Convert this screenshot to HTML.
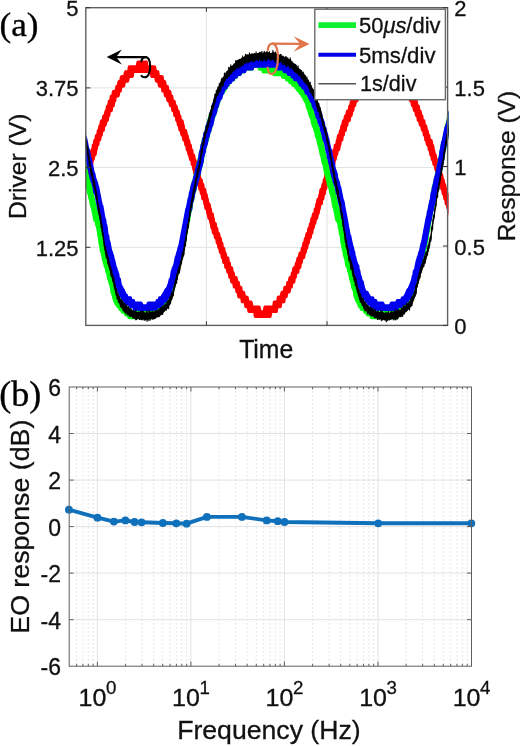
<!DOCTYPE html>
<html lang="en"><head><meta charset="utf-8"><title>Figure</title>
<style>html,body{margin:0;padding:0;background:#fff}svg{display:block}text{font-family:"Liberation Sans",Arial,Helvetica,sans-serif;fill:#111;stroke:#111;stroke-width:0.3px}.ser{font-family:"Liberation Serif","Times New Roman",serif;fill:#000;stroke:#000;stroke-width:0.35px}</style></head><body>
<svg width="520" height="746" viewBox="0 0 520 746">
<rect width="520" height="746" fill="#fff"/>
<defs><clipPath id="ca"><rect x="85.3" y="7.7" width="363.3" height="317.7"/></clipPath>
<clipPath id="cb"><rect x="60" y="380" width="420" height="290"/></clipPath></defs>
<g stroke="#e2e2e2" stroke-width="1" fill="none">
<line x1="85.8" y1="87.9" x2="447.6" y2="87.9"/>
<line x1="85.8" y1="167.5" x2="447.6" y2="167.5"/>
<line x1="85.8" y1="247.3" x2="447.6" y2="247.3"/>
<line x1="206.4" y1="7.7" x2="206.4" y2="325.4"/>
<line x1="327.0" y1="7.7" x2="327.0" y2="325.4"/>
</g>
<g clip-path="url(#ca)" fill="none" stroke-linejoin="miter" stroke-linecap="butt">
<polygon fill="#fe0000" stroke="none" points="77.8,188.9 78.3,188.2 78.8,187.9 79.3,184.9 79.8,183.6 80.3,183.2 80.8,180.0 81.3,178.7 81.8,178.3 82.3,175.1 82.8,173.8 83.3,173.4 83.8,170.2 84.3,168.9 84.8,168.5 85.3,164.4 85.8,163.7 86.3,163.4 86.8,160.4 87.3,159.1 87.8,158.7 88.3,158.5 88.8,154.6 89.3,153.9 89.8,153.6 90.3,149.7 90.8,149.0 91.3,148.7 91.8,144.8 92.3,144.1 92.8,143.8 93.3,139.9 93.8,139.2 94.3,138.9 94.8,135.9 95.3,134.6 95.8,134.2 96.3,134.0 96.8,130.1 97.3,129.4 97.8,129.1 98.3,126.1 98.8,124.8 99.3,124.4 99.8,121.2 100.3,119.9 100.8,119.5 101.3,119.3 101.8,119.2 102.3,115.4 102.8,114.7 103.3,114.4 103.8,114.3 104.3,111.4 104.8,110.1 105.3,109.7 105.8,106.5 106.3,105.2 106.8,104.8 107.3,104.6 107.8,100.7 108.3,100.0 108.8,99.7 109.3,99.6 109.8,95.8 110.3,95.1 110.8,94.8 111.3,94.7 111.8,91.8 112.3,90.5 112.8,90.1 113.3,89.9 113.8,89.8 114.3,89.8 114.8,89.8 115.3,86.0 115.8,85.3 116.3,85.0 116.8,84.9 117.3,82.0 117.8,80.7 118.3,80.3 118.8,80.1 119.3,80.0 119.8,77.1 120.3,75.8 120.8,75.4 121.3,75.2 121.8,75.1 122.3,75.1 122.8,75.1 123.3,75.1 123.8,72.2 124.3,70.9 124.8,70.5 125.3,70.3 125.8,70.2 126.3,70.2 126.8,70.2 127.3,70.2 127.8,66.4 128.3,65.7 128.8,65.4 129.3,65.3 129.8,65.3 130.3,65.3 130.8,65.3 131.3,65.3 131.8,65.3 132.3,65.3 132.8,65.3 133.3,65.3 133.8,65.3 134.3,65.3 134.8,65.3 135.3,65.3 135.8,65.3 136.3,62.4 136.8,61.1 137.3,60.7 137.8,60.5 138.3,60.4 138.8,60.4 139.3,60.4 139.8,60.4 140.3,60.4 140.8,60.4 141.3,60.4 141.8,60.4 142.3,60.4 142.8,60.4 143.3,60.4 143.8,60.4 144.3,60.4 144.8,60.4 145.3,60.4 145.8,60.4 146.3,60.4 146.8,60.5 147.3,60.8 147.8,61.5 148.3,65.3 148.8,65.3 149.3,65.3 149.8,65.3 150.3,65.3 150.8,65.3 151.3,65.3 151.8,65.3 152.3,65.3 152.8,65.3 153.3,65.3 153.8,65.3 154.3,65.3 154.8,65.4 155.3,65.6 155.8,66.0 156.3,67.3 156.8,70.2 157.3,70.2 157.8,70.2 158.3,70.3 158.8,70.6 159.3,71.3 159.8,75.1 160.3,75.1 160.8,75.1 161.3,75.1 161.8,75.1 162.3,75.2 162.8,75.4 163.3,75.8 163.8,77.1 164.3,80.0 164.8,80.1 165.3,80.3 165.8,80.7 166.3,82.0 166.8,84.9 167.3,84.9 167.8,85.0 168.3,85.3 168.8,86.0 169.3,89.8 169.8,89.8 170.3,89.9 170.8,90.2 171.3,90.9 171.8,94.7 172.3,94.8 172.8,95.1 173.3,95.8 173.8,99.6 174.3,99.7 174.8,99.9 175.3,100.3 175.8,101.6 176.3,104.6 176.8,104.8 177.3,105.2 177.8,106.5 178.3,109.5 178.8,109.7 179.3,110.1 179.8,111.4 180.3,114.4 180.8,114.7 181.3,115.4 181.8,119.2 182.3,119.3 182.8,119.5 183.3,119.9 183.8,121.2 184.3,124.5 184.8,125.2 185.3,129.0 185.8,129.1 186.3,129.3 186.8,129.7 187.3,131.0 187.8,134.2 188.3,134.6 188.8,135.9 189.3,139.1 189.8,139.5 190.3,140.8 190.8,143.8 191.3,144.1 191.8,144.8 192.3,148.7 192.8,149.0 193.3,149.7 193.8,153.6 194.3,153.8 194.8,154.2 195.3,155.5 195.8,158.7 196.3,159.1 196.8,160.4 197.3,163.7 197.8,164.4 198.3,168.2 198.8,168.3 199.3,168.6 199.8,169.3 200.3,173.5 200.8,174.2 201.3,178.1 201.8,178.3 202.3,178.7 202.8,180.0 203.3,183.0 203.8,183.3 204.3,184.0 204.8,187.9 205.3,188.1 205.8,188.5 206.3,189.8 206.8,193.0 207.3,193.4 207.8,194.7 208.3,198.0 208.8,198.7 209.3,202.6 209.8,202.8 210.3,203.2 210.8,204.5 211.3,207.8 211.8,208.5 212.3,212.3 212.8,212.4 213.3,212.7 213.8,213.4 214.3,217.6 214.8,218.3 215.3,222.1 215.8,222.2 216.3,222.5 216.8,223.2 217.3,227.1 217.8,227.4 218.3,228.1 218.8,232.0 219.3,232.2 219.8,232.6 220.3,233.9 220.8,236.9 221.3,237.2 221.8,237.9 222.3,241.8 222.8,242.1 223.3,242.8 223.8,246.7 224.3,246.9 224.8,247.3 225.3,248.6 225.8,251.8 226.3,252.2 226.8,253.5 227.3,256.4 227.8,256.4 228.3,256.5 228.8,256.8 229.3,257.5 229.8,261.4 230.3,261.7 230.8,262.4 231.3,266.2 231.8,266.3 232.3,266.5 232.8,266.9 233.3,268.2 233.8,271.4 234.3,271.8 234.8,273.1 235.3,276.0 235.8,276.0 236.3,276.1 236.8,276.3 237.3,276.7 237.8,278.0 238.3,280.9 238.8,281.0 239.3,281.3 239.8,282.0 240.3,285.8 240.8,285.8 241.3,285.9 241.8,286.2 242.3,286.9 242.8,290.7 243.3,290.7 243.8,290.8 244.3,291.0 244.8,291.4 245.3,292.7 245.8,295.6 246.3,295.6 246.8,295.6 247.3,295.7 247.8,295.9 248.3,296.3 248.8,297.6 249.3,300.5 249.8,300.5 250.3,300.5 250.8,300.5 251.3,300.6 251.8,300.8 252.3,301.2 252.8,302.5 253.3,305.4 253.8,305.4 254.3,305.4 254.8,305.4 255.3,305.4 255.8,305.4 256.3,305.4 256.8,305.4 257.3,305.4 257.8,305.4 258.3,305.4 258.8,305.4 259.3,305.5 259.8,305.7 260.3,306.1 260.8,307.4 261.3,310.3 261.8,310.3 262.3,310.3 262.8,310.3 263.3,307.4 263.8,306.1 264.3,305.7 264.8,305.5 265.3,305.4 265.8,305.4 266.3,305.4 266.8,305.4 267.3,305.4 267.8,305.4 268.3,305.4 268.8,305.4 269.3,305.4 269.8,305.4 270.3,305.4 270.8,305.4 271.3,305.4 271.8,305.4 272.3,305.4 272.8,301.6 273.3,300.9 273.8,300.6 274.3,300.5 274.8,300.5 275.3,300.5 275.8,300.5 276.3,300.5 276.8,296.7 277.3,296.0 277.8,295.7 278.3,295.6 278.8,295.6 279.3,295.6 279.8,295.6 280.3,292.7 280.8,291.4 281.3,291.0 281.8,290.8 282.3,290.7 282.8,290.7 283.3,286.9 283.8,286.2 284.3,285.9 284.8,285.8 285.3,285.8 285.8,285.8 286.3,282.0 286.8,281.3 287.3,281.0 287.8,280.9 288.3,278.0 288.8,276.7 289.3,276.3 289.8,276.1 290.3,276.0 290.8,273.1 291.3,271.8 291.8,271.4 292.3,268.2 292.8,266.9 293.3,266.5 293.8,266.3 294.3,266.2 294.8,263.3 295.3,262.0 295.8,261.6 296.3,258.4 296.8,257.1 297.3,256.7 297.8,256.5 298.3,253.5 298.8,252.2 299.3,251.8 299.8,251.6 300.3,251.5 300.8,247.7 301.3,247.0 301.8,246.7 302.3,242.8 302.8,242.1 303.3,241.8 303.8,238.8 304.3,237.5 304.8,237.1 305.3,233.9 305.8,232.6 306.3,232.2 306.8,232.0 307.3,228.1 307.8,227.4 308.3,227.1 308.8,224.1 309.3,222.8 309.8,222.4 310.3,218.3 310.8,217.6 311.3,217.3 311.8,214.3 312.3,213.0 312.8,212.6 313.3,212.4 313.8,208.5 314.3,207.8 314.8,207.5 315.3,203.6 315.8,202.9 316.3,199.6 316.8,198.3 317.3,197.9 317.8,197.7 318.3,194.7 318.8,193.4 319.3,189.8 319.8,188.5 320.3,188.1 320.8,187.9 321.3,184.9 321.8,183.6 322.3,183.2 322.8,179.1 323.3,178.4 323.8,178.1 324.3,174.2 324.8,173.5 325.3,173.2 325.8,170.2 326.3,168.9 326.8,168.5 327.3,168.3 327.8,164.4 328.3,163.7 328.8,160.4 329.3,159.1 329.8,158.7 330.3,158.5 330.8,155.5 331.3,154.2 331.8,153.8 332.3,149.7 332.8,149.0 333.3,148.7 333.8,144.8 334.3,144.1 334.8,143.8 335.3,143.7 335.8,139.9 336.3,139.2 336.8,135.9 337.3,134.6 337.8,134.2 338.3,134.0 338.8,131.0 339.3,129.7 339.8,129.3 340.3,126.1 340.8,124.8 341.3,124.4 341.8,121.2 342.3,119.9 342.8,119.5 343.3,119.3 343.8,116.3 344.3,115.0 344.8,114.6 345.3,114.4 345.8,111.4 346.3,110.1 346.8,109.7 347.3,109.5 347.8,109.4 348.3,105.6 348.8,104.9 349.3,104.6 349.8,101.6 350.3,100.3 350.8,99.9 351.3,99.7 351.8,95.8 352.3,95.1 352.8,94.8 353.3,94.7 353.8,94.7 354.3,90.9 354.8,90.2 355.3,89.9 355.8,89.8 356.3,89.8 356.8,86.9 357.3,85.6 357.8,85.2 358.3,85.0 358.8,84.9 359.3,81.1 359.8,80.4 360.3,80.1 360.8,80.0 361.3,80.0 361.8,80.0 362.3,76.2 362.8,75.5 363.3,75.2 363.8,75.1 364.3,75.1 364.8,75.1 365.3,75.1 365.8,71.3 366.3,70.6 366.8,70.3 367.3,70.2 367.8,70.2 368.3,70.2 368.8,70.2 369.3,70.2 369.8,70.2 370.3,67.3 370.8,66.0 371.3,65.6 371.8,65.4 372.3,65.3 372.8,65.3 373.3,65.3 373.8,65.3 374.3,65.3 374.8,65.3 375.3,65.3 375.8,65.3 376.3,65.3 376.8,65.3 377.3,65.3 377.8,65.3 378.3,61.5 378.8,60.8 379.3,60.5 379.8,60.4 380.3,60.4 380.8,60.4 381.3,60.4 381.8,60.4 382.3,60.4 382.8,60.5 383.3,60.4 383.8,60.4 384.3,60.4 384.8,60.4 385.3,60.4 385.8,60.4 386.3,60.4 386.8,60.4 387.3,60.4 387.8,60.4 388.3,60.4 388.8,60.4 389.3,60.5 389.8,60.8 390.3,61.5 390.8,65.3 391.3,65.3 391.8,65.3 392.3,65.3 392.8,65.3 393.3,65.3 393.8,65.3 394.3,65.3 394.8,65.3 395.3,65.3 395.8,65.3 396.3,65.4 396.8,65.6 397.3,66.0 397.8,67.3 398.3,70.2 398.8,70.2 399.3,70.2 399.8,70.2 400.3,70.2 400.8,70.3 401.3,70.5 401.8,70.9 402.3,72.2 402.8,75.1 403.3,75.1 403.8,75.2 404.3,75.5 404.8,76.2 405.3,80.0 405.8,80.0 406.3,80.0 406.8,80.0 407.3,80.1 407.8,80.4 408.3,81.1 408.8,84.9 409.3,84.9 409.8,85.0 410.3,85.2 410.8,85.6 411.3,86.9 411.8,89.8 412.3,89.9 412.8,90.2 413.3,90.9 413.8,94.7 414.3,94.8 414.8,95.1 415.3,95.8 415.8,99.6 416.3,99.6 416.8,99.7 417.3,100.0 417.8,100.7 418.3,104.5 418.8,104.6 419.3,104.9 419.8,105.6 420.3,109.5 420.8,109.7 421.3,110.1 421.8,111.4 422.3,114.4 422.8,114.7 423.3,115.4 423.8,119.2 424.3,119.3 424.8,119.6 425.3,120.3 425.8,124.2 426.3,124.4 426.8,124.8 427.3,126.1 427.8,129.3 428.3,129.7 428.8,131.0 429.3,134.0 429.8,134.3 430.3,135.0 430.8,138.8 431.3,138.9 431.8,139.1 432.3,139.5 432.8,140.8 433.3,144.0 433.8,144.4 434.3,145.7 434.8,149.3 435.3,150.6 435.8,153.6 436.3,153.9 436.8,154.6 437.3,158.5 437.8,158.7 438.3,159.1 438.8,160.4 439.3,163.7 439.8,164.4 440.3,168.2 440.8,168.3 441.3,168.6 441.8,169.3 442.3,173.4 442.8,173.8 443.3,175.1 443.8,178.3 444.3,178.7 444.8,180.0 445.3,183.2 445.8,183.6 446.3,184.9 446.8,188.1 447.3,188.5 447.8,189.8 448.3,193.0 448.8,193.4 449.3,194.7 449.8,197.7 450.3,198.0 450.8,198.7 451.3,202.6 451.8,202.8 452.3,203.2 452.8,204.5 453.3,207.8 453.8,208.5 454.3,212.4 454.8,212.6 455.3,213.0 455.3,229.8 454.8,229.8 454.3,229.8 453.8,229.7 453.3,229.4 452.8,228.7 452.3,224.9 451.8,224.8 451.3,224.5 450.8,223.8 450.3,219.7 449.8,219.3 449.3,218.0 448.8,214.7 448.3,214.0 447.8,210.1 447.3,209.9 446.8,209.5 446.3,208.2 445.8,205.2 445.3,204.9 444.8,204.2 444.3,200.3 443.8,200.0 443.3,199.3 442.8,195.4 442.3,195.1 441.8,194.4 441.3,190.5 440.8,190.2 440.3,189.5 439.8,185.6 439.3,185.3 438.8,184.6 438.3,180.5 437.8,180.1 437.3,178.8 436.8,175.8 436.3,175.6 435.8,175.2 435.3,173.9 434.8,170.6 434.3,169.9 433.8,166.0 433.3,165.8 432.8,165.4 432.3,164.1 431.8,161.1 431.3,160.8 430.8,160.1 430.3,156.2 429.8,155.9 429.3,155.2 428.8,151.3 428.3,151.0 427.8,150.3 427.3,146.4 426.8,146.2 426.3,145.8 425.8,144.5 425.3,141.5 424.8,141.2 424.3,140.5 423.8,136.6 423.3,136.3 422.8,135.6 422.3,131.7 421.8,131.5 421.3,131.1 420.8,129.8 420.3,126.8 419.8,126.6 419.3,126.2 418.8,124.9 418.3,122.0 417.8,121.9 417.3,121.6 416.8,120.9 416.3,117.0 415.8,116.8 415.3,116.4 414.8,115.1 414.3,112.1 413.8,111.9 413.3,111.5 412.8,110.2 412.3,107.2 411.8,107.0 411.3,106.6 410.8,105.3 410.3,102.3 409.8,102.1 409.3,101.7 408.8,100.4 408.3,97.5 407.8,97.5 407.3,97.4 406.8,97.1 406.3,96.4 405.8,92.6 405.3,92.6 404.8,92.6 404.3,92.5 403.8,92.3 403.3,91.9 402.8,90.6 402.3,87.7 401.8,87.6 401.3,87.4 400.8,87.0 400.3,85.7 399.8,82.8 399.3,82.8 398.8,82.8 398.3,82.8 397.8,82.7 397.3,82.5 396.8,82.1 396.3,80.8 395.8,77.9 395.3,77.9 394.8,77.9 394.3,77.9 393.8,77.9 393.3,77.9 392.8,77.9 392.3,77.8 391.8,77.5 391.3,76.8 390.8,73.0 390.3,73.0 389.8,73.0 389.3,73.0 388.8,73.0 388.3,73.0 387.8,73.0 387.3,73.0 386.8,73.0 386.3,73.0 385.8,73.0 385.3,73.0 384.8,73.0 384.3,73.0 383.8,73.0 383.3,73.0 382.8,73.0 382.3,73.0 381.8,73.0 381.3,73.0 380.8,73.0 380.3,73.0 379.8,73.0 379.3,73.0 378.8,73.0 378.3,73.0 377.8,73.0 377.3,73.0 376.8,73.0 376.3,73.0 375.8,76.8 375.3,77.5 374.8,77.8 374.3,77.9 373.8,77.9 373.3,77.9 372.8,77.9 372.3,77.9 371.8,77.9 371.3,77.9 370.8,77.9 370.3,80.8 369.8,82.1 369.3,82.5 368.8,82.7 368.3,82.8 367.8,82.8 367.3,86.6 366.8,87.3 366.3,87.6 365.8,87.7 365.3,87.7 364.8,87.7 364.3,87.7 363.8,90.6 363.3,91.9 362.8,92.3 362.3,92.5 361.8,92.6 361.3,96.4 360.8,97.1 360.3,97.4 359.8,97.5 359.3,97.5 358.8,100.4 358.3,101.7 357.8,102.1 357.3,102.3 356.8,102.4 356.3,105.3 355.8,106.6 355.3,107.0 354.8,107.2 354.3,111.1 353.8,111.8 353.3,112.1 352.8,115.1 352.3,116.4 351.8,116.8 351.3,117.0 350.8,120.9 350.3,121.6 349.8,121.9 349.3,122.0 348.8,122.0 348.3,125.8 347.8,126.5 347.3,126.8 346.8,130.7 346.3,131.4 345.8,131.7 345.3,131.8 344.8,135.6 344.3,136.3 343.8,136.6 343.3,140.5 342.8,141.2 342.3,141.5 341.8,141.6 341.3,145.4 340.8,146.1 340.3,149.4 339.8,150.7 339.3,151.1 338.8,151.3 338.3,154.3 337.8,155.6 337.3,156.0 336.8,159.2 336.3,160.5 335.8,160.9 335.3,165.0 334.8,165.7 334.3,166.0 333.8,166.1 333.3,169.9 332.8,170.6 332.3,173.9 331.8,175.2 331.3,175.6 330.8,175.8 330.3,179.7 329.8,180.4 329.3,183.7 328.8,185.0 328.3,185.4 327.8,185.6 327.3,188.6 326.8,189.9 326.3,190.3 325.8,194.4 325.3,195.1 324.8,195.4 324.3,199.3 323.8,200.0 323.3,200.3 322.8,204.2 322.3,204.9 321.8,205.2 321.3,205.3 320.8,209.1 320.3,209.8 319.8,213.1 319.3,214.4 318.8,214.8 318.3,218.0 317.8,219.3 317.3,219.7 316.8,219.9 316.3,223.8 315.8,224.5 315.3,224.8 314.8,227.8 314.3,229.1 313.8,229.5 313.3,233.6 312.8,234.3 312.3,234.6 311.8,237.6 311.3,238.9 310.8,239.3 310.3,239.5 309.8,243.4 309.3,244.1 308.8,244.4 308.3,248.3 307.8,249.0 307.3,249.3 306.8,252.3 306.3,253.6 305.8,254.0 305.3,257.2 304.8,258.5 304.3,258.9 303.8,259.1 303.3,259.2 302.8,263.0 302.3,263.7 301.8,264.0 301.3,267.9 300.8,268.6 300.3,268.9 299.8,269.0 299.3,272.8 298.8,273.5 298.3,273.8 297.8,273.9 297.3,273.9 296.8,277.7 296.3,278.4 295.8,278.7 295.3,282.6 294.8,283.3 294.3,283.6 293.8,283.7 293.3,283.7 292.8,287.5 292.3,288.2 291.8,288.5 291.3,288.6 290.8,291.5 290.3,292.8 289.8,293.2 289.3,293.4 288.8,293.5 288.3,293.5 287.8,296.4 287.3,297.7 286.8,298.1 286.3,298.3 285.8,298.4 285.3,302.2 284.8,302.9 284.3,303.2 283.8,303.3 283.3,303.3 282.8,303.3 282.3,303.3 281.8,307.1 281.3,307.8 280.8,308.1 280.3,308.2 279.8,308.2 279.3,308.2 278.8,308.2 278.3,308.2 277.8,312.0 277.3,312.7 276.8,313.0 276.3,313.1 275.8,313.1 275.3,313.1 274.8,313.1 274.3,313.1 273.8,313.1 273.3,313.1 272.8,313.1 272.3,313.1 271.8,316.0 271.3,317.3 270.8,317.7 270.3,317.9 269.8,318.0 269.3,318.0 268.8,318.0 268.3,318.0 267.8,318.0 267.3,318.0 266.8,318.0 266.3,318.0 265.8,318.0 265.3,318.0 264.8,318.0 264.3,318.0 263.8,318.0 263.3,318.0 262.8,318.0 262.3,318.0 261.8,318.0 261.3,318.0 260.8,318.0 260.3,318.0 259.8,318.0 259.3,318.0 258.8,318.0 258.3,318.0 257.8,318.0 257.3,318.0 256.8,318.0 256.3,318.0 255.8,318.0 255.3,318.0 254.8,317.9 254.3,317.6 253.8,316.9 253.3,313.1 252.8,313.1 252.3,313.1 251.8,313.1 251.3,313.1 250.8,313.1 250.3,313.1 249.8,313.1 249.3,313.1 248.8,313.0 248.3,312.8 247.8,312.4 247.3,311.1 246.8,308.2 246.3,308.2 245.8,308.2 245.3,308.1 244.8,307.8 244.3,307.1 243.8,303.3 243.3,303.3 242.8,303.3 242.3,303.3 241.8,303.2 241.3,302.9 240.8,302.2 240.3,298.4 239.8,298.4 239.3,298.4 238.8,298.4 238.3,298.3 237.8,298.0 237.3,297.3 236.8,293.4 236.3,293.2 235.8,292.8 235.3,291.5 234.8,288.6 234.3,288.6 233.8,288.5 233.3,288.2 232.8,287.5 232.3,283.7 231.8,283.7 231.3,283.6 230.8,283.3 230.3,282.6 229.8,278.8 229.3,278.7 228.8,278.4 228.3,277.7 227.8,273.8 227.3,273.6 226.8,273.2 226.3,271.9 225.8,269.0 225.3,268.9 224.8,268.6 224.3,267.9 223.8,264.1 223.3,264.0 222.8,263.7 222.3,263.0 221.8,259.1 221.3,258.8 220.8,258.1 220.3,254.2 219.8,254.0 219.3,253.6 218.8,252.3 218.3,249.1 217.8,248.7 217.3,247.4 216.8,244.4 216.3,244.1 215.8,243.4 215.3,239.5 214.8,239.3 214.3,238.9 213.8,237.6 213.3,234.6 212.8,234.4 212.3,234.0 211.8,232.7 211.3,229.5 210.8,229.1 210.3,227.8 209.8,224.2 209.3,222.9 208.8,219.9 208.3,219.7 207.8,219.3 207.3,218.0 206.8,214.7 206.3,214.0 205.8,210.1 205.3,209.9 204.8,209.5 204.3,208.2 203.8,204.9 203.3,204.2 202.8,200.4 202.3,200.3 201.8,200.0 201.3,199.3 200.8,195.2 200.3,194.8 199.8,193.5 199.3,190.5 198.8,190.2 198.3,189.5 197.8,185.6 197.3,185.4 196.8,185.0 196.3,183.7 195.8,180.1 195.3,178.8 194.8,175.8 194.3,175.6 193.8,175.2 193.3,173.9 192.8,170.6 192.3,169.9 191.8,166.0 191.3,165.7 190.8,165.0 190.3,161.1 189.8,160.9 189.3,160.5 188.8,159.2 188.3,156.0 187.8,155.6 187.3,154.3 186.8,151.3 186.3,151.0 185.8,150.3 185.3,146.4 184.8,146.1 184.3,145.4 183.8,141.6 183.3,141.5 182.8,141.2 182.3,140.5 181.8,136.6 181.3,136.4 180.8,136.0 180.3,134.7 179.8,131.7 179.3,131.5 178.8,131.1 178.3,129.8 177.8,126.6 177.3,126.2 176.8,124.9 176.3,121.9 175.8,121.6 175.3,120.9 174.8,117.1 174.3,117.0 173.8,116.7 173.3,116.0 172.8,112.2 172.3,112.1 171.8,111.8 171.3,111.1 170.8,107.3 170.3,107.2 169.8,107.0 169.3,106.6 168.8,105.3 168.3,102.4 167.8,102.3 167.3,102.1 166.8,101.7 166.3,100.4 165.8,97.5 165.3,97.4 164.8,97.2 164.3,96.8 163.8,95.5 163.3,92.6 162.8,92.6 162.3,92.5 161.8,92.2 161.3,91.5 160.8,87.7 160.3,87.7 159.8,87.7 159.3,87.6 158.8,87.4 158.3,87.0 157.8,85.7 157.3,82.8 156.8,82.8 156.3,82.7 155.8,82.5 155.3,82.1 154.8,80.8 154.3,77.9 153.8,77.9 153.3,77.9 152.8,77.9 152.3,77.9 151.8,77.9 151.3,77.8 150.8,77.5 150.3,76.8 149.8,73.0 149.3,73.0 148.8,73.0 148.3,73.0 147.8,73.0 147.3,73.0 146.8,73.0 146.3,73.0 145.8,73.0 145.3,73.0 144.8,73.0 144.3,73.0 143.8,73.0 143.3,73.0 142.8,73.0 142.3,73.0 141.8,73.0 141.3,73.0 140.8,73.0 140.3,73.0 139.8,73.0 139.3,73.0 138.8,73.0 138.3,73.0 137.8,73.0 137.3,73.0 136.8,73.0 136.3,73.0 135.8,73.0 135.3,73.0 134.8,73.0 134.3,73.0 133.8,76.8 133.3,77.5 132.8,77.8 132.3,77.9 131.8,77.9 131.3,77.9 130.8,77.9 130.3,77.9 129.8,77.9 129.3,80.8 128.8,82.1 128.3,82.5 127.8,82.7 127.3,82.8 126.8,82.8 126.3,82.8 125.8,82.8 125.3,85.7 124.8,87.0 124.3,87.4 123.8,87.6 123.3,87.7 122.8,87.7 122.3,87.7 121.8,91.5 121.3,92.2 120.8,92.5 120.3,92.6 119.8,95.5 119.3,96.8 118.8,97.2 118.3,97.4 117.8,97.5 117.3,97.5 116.8,97.5 116.3,101.3 115.8,102.0 115.3,102.3 114.8,106.2 114.3,106.9 113.8,107.2 113.3,107.3 112.8,111.1 112.3,111.8 111.8,112.1 111.3,112.2 110.8,112.2 110.3,116.0 109.8,116.7 109.3,117.0 108.8,120.9 108.3,121.6 107.8,121.9 107.3,122.0 106.8,124.9 106.3,126.2 105.8,126.6 105.3,126.8 104.8,130.7 104.3,131.4 103.8,131.7 103.3,131.8 102.8,135.6 102.3,136.3 101.8,136.6 101.3,139.6 100.8,140.9 100.3,141.3 99.8,141.5 99.3,145.4 98.8,146.1 98.3,146.4 97.8,149.4 97.3,150.7 96.8,154.3 96.3,155.6 95.8,156.0 95.3,156.2 94.8,159.2 94.3,160.5 93.8,160.9 93.3,164.1 92.8,165.4 92.3,165.8 91.8,166.0 91.3,169.9 90.8,170.6 90.3,170.9 89.8,173.9 89.3,175.2 88.8,175.6 88.3,179.7 87.8,180.4 87.3,180.7 86.8,184.6 86.3,185.3 85.8,185.6 85.3,189.5 84.8,190.2 84.3,190.5 83.8,194.4 83.3,195.1 82.8,195.4 82.3,198.4 81.8,199.7 81.3,203.3 80.8,204.6 80.3,205.0 79.8,205.2 79.3,205.3 78.8,205.3 78.3,205.3 77.8,205.3"/>
<polygon fill="#00fb10" stroke="none" points="77.8,139.8 78.3,139.8 78.8,139.8 79.3,139.8 79.8,139.9 80.3,140.1 80.8,140.4 81.3,141.4 81.8,144.1 82.3,145.6 82.8,146.2 83.3,149.5 83.8,151.6 84.3,154.3 84.8,157.0 85.3,159.7 85.8,161.8 86.3,162.4 86.8,165.1 87.3,167.4 87.8,168.4 88.3,172.8 88.8,173.8 89.3,175.3 89.8,175.9 90.3,179.2 90.8,181.3 91.3,183.6 91.8,184.6 92.3,186.3 92.8,187.3 93.3,190.0 93.8,194.4 94.3,195.4 94.8,198.1 95.3,200.2 95.8,202.5 96.3,203.5 96.8,206.2 97.3,208.3 97.8,210.2 98.3,210.4 98.8,211.0 99.3,213.7 99.8,216.4 100.3,219.1 100.8,221.4 101.3,222.4 101.8,225.1 102.3,227.8 102.8,232.2 103.3,233.2 103.8,235.9 104.3,240.7 104.8,244.0 105.3,246.1 105.8,248.4 106.3,249.4 106.8,252.1 107.3,254.2 107.8,256.3 108.3,256.9 108.8,260.2 109.3,261.7 109.8,262.3 110.3,265.6 110.8,267.1 111.3,267.7 111.8,271.0 112.3,273.1 112.8,275.4 113.3,276.4 113.8,278.1 114.3,279.1 114.8,281.2 115.3,284.5 115.8,286.2 116.3,287.2 116.8,289.3 117.3,292.0 117.8,293.9 118.3,294.1 118.8,294.7 119.3,296.5 119.8,296.7 120.3,297.0 120.8,298.0 121.3,299.4 121.8,299.7 122.3,300.7 122.8,301.8 123.3,302.0 123.8,302.2 124.3,302.8 124.8,304.5 125.3,304.5 125.8,304.6 126.3,304.8 126.8,305.1 127.3,306.1 127.8,307.2 128.3,307.2 128.8,307.2 129.3,307.2 129.8,307.3 130.3,307.5 130.8,307.8 131.3,308.8 131.8,309.9 132.3,309.9 132.8,309.9 133.3,309.9 133.8,309.9 134.3,309.9 134.8,309.9 135.3,309.9 135.8,309.9 136.3,309.9 136.8,309.9 137.3,309.9 137.8,309.9 138.3,309.9 138.8,309.9 139.3,309.9 139.8,309.9 140.3,309.9 140.8,310.1 141.3,310.3 141.8,310.3 142.3,310.1 142.8,309.9 143.3,309.9 143.8,309.9 144.3,309.9 144.8,309.9 145.3,309.9 145.8,309.9 146.3,309.9 146.8,309.9 147.3,309.9 147.8,309.9 148.3,309.9 148.8,309.9 149.3,309.9 149.8,309.9 150.3,309.9 150.8,309.9 151.3,309.9 151.8,309.9 152.3,308.8 152.8,307.8 153.3,307.5 153.8,307.3 154.3,307.2 154.8,307.2 155.3,307.2 155.8,307.2 156.3,307.2 156.8,307.2 157.3,306.1 157.8,305.1 158.3,304.8 158.8,304.6 159.3,304.5 159.8,303.4 160.3,302.4 160.8,302.1 161.3,301.9 161.8,301.8 162.3,300.7 162.8,299.7 163.3,299.4 163.8,299.2 164.3,297.4 164.8,296.8 165.3,296.6 165.8,294.7 166.3,294.1 166.8,292.6 167.3,291.6 167.8,289.3 168.3,287.2 168.8,286.2 169.3,284.5 169.8,281.2 170.3,279.1 170.8,276.4 171.3,275.4 171.8,273.1 172.3,271.0 172.8,270.0 173.3,267.7 173.8,265.6 174.3,264.6 174.8,262.3 175.3,260.2 175.8,257.5 176.3,256.5 176.8,254.2 177.3,253.6 177.8,252.1 178.3,249.4 178.8,246.1 179.3,243.4 179.8,241.3 180.3,238.6 180.8,237.6 181.3,233.2 181.8,229.9 182.3,229.3 182.8,224.5 183.3,222.4 183.8,219.1 184.3,216.4 184.8,213.7 185.3,211.6 185.8,208.9 186.3,207.9 186.8,205.6 187.3,202.9 187.8,198.1 188.3,197.1 188.8,195.4 189.3,192.7 189.8,189.4 190.3,187.3 190.8,186.3 191.3,184.6 191.8,181.3 192.3,180.7 192.8,178.6 193.3,175.9 193.8,173.8 194.3,172.8 194.8,170.5 195.3,169.9 195.8,165.7 196.3,163.0 196.8,162.0 197.3,160.3 197.8,157.0 198.3,156.4 198.8,154.3 199.3,151.6 199.8,149.5 200.3,146.2 200.8,144.1 201.3,143.1 201.8,138.7 202.3,137.7 202.8,137.4 203.3,135.4 203.8,132.7 204.3,130.6 204.8,129.6 205.3,127.3 205.8,125.2 206.3,124.2 206.8,121.9 207.3,119.2 207.8,118.6 208.3,116.5 208.8,114.4 209.3,113.4 209.8,113.1 210.3,111.1 210.8,108.4 211.3,105.7 211.8,105.1 212.3,104.9 212.8,103.6 213.3,100.9 213.8,99.9 214.3,99.6 214.8,97.6 215.3,95.5 215.8,92.8 216.3,91.8 216.8,91.5 217.3,90.1 217.8,89.1 218.3,88.8 218.8,88.6 219.3,86.8 219.8,86.2 220.3,84.7 220.8,83.7 221.3,83.4 221.8,81.4 222.3,80.8 222.8,80.6 223.3,79.3 223.8,78.3 224.3,78.0 224.8,77.8 225.3,77.7 225.8,76.6 226.3,75.6 226.8,75.3 227.3,75.1 227.8,73.9 228.3,72.9 228.8,72.6 229.3,72.4 229.8,72.3 230.3,72.3 230.8,71.2 231.3,70.2 231.8,69.9 232.3,69.7 232.8,69.6 233.3,69.6 233.8,69.6 234.3,69.6 234.8,68.5 235.3,67.5 235.8,67.2 236.3,67.0 236.8,66.9 237.3,66.9 237.8,66.9 238.3,65.2 238.8,64.6 239.3,64.4 239.8,64.2 240.3,64.2 240.8,64.2 241.3,64.2 241.8,64.2 242.3,64.2 242.8,64.2 243.3,63.1 243.8,62.1 244.3,61.8 244.8,61.6 245.3,61.5 245.8,61.5 246.3,61.5 246.8,61.5 247.3,61.5 247.8,61.5 248.3,61.5 248.8,61.5 249.3,61.5 249.8,61.5 250.3,61.5 250.8,61.5 251.3,59.8 251.8,59.2 252.3,59.0 252.8,58.8 253.3,58.8 253.8,58.8 254.3,58.8 254.8,58.8 255.3,58.8 255.8,58.8 256.3,58.8 256.8,58.8 257.3,58.8 257.8,58.8 258.3,58.8 258.8,59.0 259.3,59.2 259.8,59.8 260.3,61.5 260.8,61.5 261.3,61.5 261.8,61.5 262.3,61.5 262.8,61.5 263.3,61.5 263.8,61.5 264.3,61.6 264.8,61.8 265.3,62.1 265.8,63.1 266.3,64.2 266.8,64.2 267.3,64.2 267.8,64.2 268.3,64.2 268.8,64.2 269.3,64.2 269.8,64.2 270.3,64.2 270.8,64.2 271.3,64.2 271.8,64.2 272.3,64.3 272.8,64.5 273.3,64.8 273.8,65.8 274.3,66.9 274.8,66.9 275.3,66.9 275.8,66.9 276.3,66.9 276.8,66.9 277.3,66.9 277.8,66.9 278.3,66.9 278.8,66.9 279.3,66.9 279.8,66.9 280.3,67.0 280.8,67.2 281.3,67.5 281.8,68.5 282.3,69.6 282.8,69.6 283.3,69.6 283.8,69.6 284.3,69.6 284.8,69.6 285.3,69.6 285.8,69.6 286.3,69.6 286.8,69.8 287.3,70.0 287.8,70.6 288.3,72.3 288.8,72.3 289.3,72.3 289.8,72.3 290.3,72.3 290.8,72.3 291.3,72.5 291.8,72.7 292.3,73.3 292.8,75.0 293.3,75.0 293.8,75.0 294.3,75.1 294.8,75.3 295.3,75.6 295.8,76.6 296.3,77.7 296.8,77.7 297.3,77.8 297.8,78.0 298.3,78.3 298.8,79.3 299.3,80.4 299.8,80.6 300.3,80.8 300.8,81.4 301.3,83.1 301.8,83.3 302.3,83.5 302.8,84.1 303.3,86.4 303.8,87.4 304.3,88.5 304.8,88.6 305.3,88.8 305.8,89.1 306.3,90.1 306.8,91.6 307.3,92.2 307.8,94.2 308.3,94.5 308.8,95.5 309.3,96.9 309.8,97.2 310.3,98.2 310.8,99.9 311.3,100.9 311.8,102.6 312.3,103.6 312.8,105.7 313.3,107.8 313.8,108.4 314.3,111.1 314.8,113.1 315.3,113.4 315.8,114.4 316.3,116.1 316.8,117.1 317.3,119.2 317.8,121.9 318.3,124.2 318.8,125.2 319.3,126.9 319.8,127.9 320.3,132.0 320.8,132.3 321.3,133.3 321.8,136.0 322.3,137.5 322.8,138.1 323.3,141.4 323.8,143.1 324.3,144.1 324.8,148.9 325.3,151.2 325.8,152.2 326.3,154.9 326.8,157.0 327.3,159.1 327.8,159.7 328.3,163.0 328.8,164.7 329.3,165.7 329.8,170.1 330.3,171.1 330.8,173.8 331.3,175.5 331.8,176.5 332.3,180.6 332.8,180.9 333.3,181.9 333.8,184.6 334.3,186.7 334.8,188.8 335.3,189.4 335.8,192.1 336.3,194.8 336.8,197.1 337.3,198.1 337.8,200.8 338.3,203.5 338.8,206.2 339.3,208.3 339.8,210.1 340.3,210.3 340.8,210.6 341.3,211.6 341.8,214.3 342.3,218.7 342.8,219.7 343.3,224.1 343.8,225.1 344.3,229.5 344.8,230.5 345.3,233.2 345.8,238.0 346.3,240.7 346.8,243.4 347.3,245.7 347.8,246.7 348.3,251.1 348.8,252.1 349.3,253.8 349.8,254.8 350.3,259.0 350.8,259.6 351.3,261.9 351.8,262.9 352.3,265.6 352.8,267.3 353.3,268.3 353.8,270.0 354.3,271.0 354.8,273.7 355.3,276.4 355.8,278.5 356.3,280.6 356.8,281.2 357.3,283.9 357.8,286.2 358.3,287.2 358.8,288.9 359.3,289.9 359.8,292.0 360.3,294.7 360.8,296.4 361.3,296.5 361.8,296.7 362.3,297.0 362.8,298.0 363.3,299.3 363.8,299.5 364.3,300.1 364.8,302.1 365.3,302.4 365.8,303.4 366.3,304.5 366.8,304.5 367.3,304.6 367.8,304.8 368.3,305.1 368.8,306.1 369.3,307.2 369.8,307.2 370.3,307.2 370.8,307.3 371.3,307.5 371.8,307.8 372.3,308.8 372.8,309.9 373.3,309.9 373.8,309.9 374.3,309.9 374.8,309.9 375.3,309.9 375.8,309.9 376.3,309.9 376.8,309.9 377.3,309.9 377.8,309.9 378.3,309.9 378.8,309.9 379.3,309.9 379.8,309.9 380.3,309.9 380.8,310.1 381.3,309.9 381.8,309.9 382.3,309.9 382.8,309.9 383.3,309.9 383.8,310.0 384.3,310.0 384.8,309.9 385.3,309.9 385.8,309.9 386.3,309.9 386.8,309.9 387.3,309.9 387.8,309.9 388.3,309.9 388.8,309.9 389.3,309.9 389.8,309.9 390.3,309.9 390.8,309.9 391.3,309.9 391.8,309.9 392.3,309.9 392.8,309.9 393.3,309.9 393.8,309.9 394.3,309.9 394.8,308.8 395.3,307.8 395.8,307.5 396.3,307.3 396.8,307.2 397.3,307.2 397.8,307.2 398.3,307.2 398.8,307.2 399.3,305.5 399.8,304.9 400.3,304.7 400.8,304.5 401.3,304.5 401.8,302.8 402.3,302.2 402.8,302.0 403.3,301.8 403.8,301.8 404.3,300.7 404.8,299.7 405.3,299.4 405.8,297.4 406.3,296.8 406.8,296.6 407.3,296.4 407.8,294.7 408.3,294.1 408.8,292.0 409.3,289.9 409.8,288.9 410.3,286.6 410.8,286.0 411.3,284.5 411.8,281.8 412.3,280.8 412.8,279.1 413.3,275.8 413.8,273.1 414.3,271.0 414.8,270.0 415.3,267.7 415.8,267.1 416.3,265.0 416.8,262.9 417.3,261.9 417.8,259.6 418.3,257.5 418.8,254.8 419.3,252.1 419.8,249.4 420.3,248.4 420.8,248.1 421.3,244.0 421.8,243.0 422.3,238.6 422.8,237.6 423.3,233.2 423.8,230.5 424.3,227.2 424.8,224.5 425.3,222.4 425.8,219.7 426.3,216.4 426.8,214.3 427.3,211.0 427.8,208.9 428.3,205.6 428.8,203.5 429.3,202.5 429.8,200.2 430.3,197.5 430.8,194.8 431.3,190.0 431.8,187.3 432.3,184.6 432.8,183.6 433.3,181.9 433.8,179.2 434.3,178.2 434.8,173.8 435.3,172.8 435.8,171.1 436.3,167.8 436.8,165.1 437.3,163.0 437.8,160.3 438.3,157.6 438.8,154.9 439.3,153.9 439.8,149.5 440.3,146.2 440.8,144.1 441.3,143.1 441.8,140.8 442.3,138.1 442.8,136.0 443.3,132.7 443.8,132.1 444.3,127.9 444.8,125.2 445.3,124.2 445.8,122.5 446.3,121.5 446.8,117.1 447.3,116.1 447.8,113.8 448.3,113.2 448.8,111.1 449.3,109.0 449.8,108.0 450.3,105.7 450.8,103.6 451.3,100.3 451.8,99.7 452.3,98.2 452.8,97.2 453.3,96.9 453.8,96.7 454.3,96.6 454.8,96.6 455.3,96.6 455.3,112.4 454.8,113.4 454.3,115.7 453.8,117.8 453.3,118.8 452.8,120.5 452.3,123.8 451.8,125.9 451.3,126.9 450.8,129.2 450.3,131.9 449.8,132.5 449.3,136.7 448.8,137.7 448.3,139.4 447.8,142.7 447.3,144.8 446.8,147.5 446.3,148.5 445.8,150.8 445.3,152.9 444.8,158.3 444.3,159.3 443.8,161.6 443.3,164.3 442.8,167.0 442.3,169.7 441.8,171.8 441.3,174.5 440.8,177.8 440.3,178.4 439.8,182.6 439.3,183.6 438.8,185.9 438.3,188.6 437.8,189.2 437.3,194.0 436.8,194.6 436.3,198.8 435.8,201.5 435.3,204.2 434.8,206.9 434.3,207.9 433.8,210.2 433.3,212.3 432.8,215.6 432.3,217.7 431.8,221.0 431.3,223.1 430.8,226.4 430.3,231.2 429.8,232.2 429.3,233.9 428.8,237.2 428.3,242.0 427.8,243.0 427.3,247.4 426.8,248.4 426.3,252.8 425.8,253.8 425.3,254.1 424.8,258.8 424.3,259.4 423.8,261.5 423.3,264.2 422.8,266.3 422.3,267.3 421.8,269.6 421.3,271.7 420.8,272.7 420.3,274.4 419.8,277.7 419.3,278.3 418.8,279.8 418.3,282.5 417.8,285.8 417.3,286.4 416.8,288.5 416.3,291.2 415.8,291.8 415.3,293.3 414.8,294.3 414.3,296.6 413.8,298.7 413.3,299.7 412.8,301.4 412.3,302.4 411.8,302.7 411.3,302.9 410.8,304.1 410.3,305.1 409.8,305.4 409.3,307.4 408.8,308.0 408.3,308.2 407.8,308.4 407.3,309.5 406.8,310.5 406.3,310.8 405.8,311.0 405.3,312.2 404.8,313.2 404.3,313.5 403.8,313.7 403.3,313.8 402.8,313.8 402.3,313.8 401.8,315.5 401.3,316.1 400.8,316.3 400.3,316.5 399.8,316.5 399.3,316.5 398.8,316.5 398.3,318.2 397.8,318.8 397.3,319.0 396.8,319.2 396.3,319.2 395.8,319.2 395.3,319.2 394.8,319.2 394.3,319.2 393.8,319.2 393.3,319.2 392.8,319.2 392.3,319.2 391.8,319.2 391.3,319.2 390.8,319.2 390.3,319.2 389.8,319.2 389.3,319.2 388.8,319.2 388.3,319.2 387.8,319.2 387.3,319.2 386.8,319.2 386.3,319.2 385.8,319.2 385.3,319.2 384.8,319.2 384.3,319.2 383.8,319.2 383.3,319.2 382.8,319.2 382.3,319.2 381.8,319.2 381.3,319.2 380.8,319.2 380.3,319.2 379.8,319.2 379.3,319.2 378.8,319.2 378.3,319.2 377.8,319.2 377.3,319.2 376.8,319.2 376.3,319.2 375.8,319.2 375.3,319.2 374.8,319.2 374.3,319.2 373.8,319.2 373.3,319.2 372.8,319.2 372.3,319.2 371.8,319.2 371.3,319.2 370.8,319.0 370.3,318.8 369.8,318.2 369.3,316.5 368.8,316.5 368.3,316.5 367.8,316.5 367.3,316.5 366.8,316.3 366.3,316.1 365.8,315.5 365.3,313.8 364.8,313.8 364.3,313.6 363.8,313.4 363.3,312.8 362.8,311.1 362.3,311.1 361.8,311.1 361.3,311.0 360.8,310.8 360.3,310.5 359.8,309.5 359.3,308.3 358.8,308.1 358.3,307.8 357.8,306.8 357.3,305.1 356.8,304.1 356.3,302.7 355.8,302.4 355.3,301.4 354.8,299.7 354.3,298.7 353.8,297.0 353.3,296.0 352.8,291.6 352.3,290.6 351.8,289.1 351.3,288.5 350.8,285.2 350.3,283.1 349.8,281.0 349.3,280.4 348.8,277.7 348.3,275.0 347.8,272.9 347.3,272.3 346.8,269.6 346.3,267.6 345.8,267.3 345.3,266.3 344.8,263.6 344.3,259.4 343.8,258.8 343.3,256.5 342.8,255.5 342.3,251.1 341.8,250.1 341.3,247.4 340.8,244.7 340.3,242.6 339.8,237.2 339.3,234.9 338.8,233.9 338.3,229.5 337.8,228.5 337.3,224.1 336.8,223.1 336.3,221.7 335.8,221.4 335.3,220.4 334.8,218.3 334.3,215.0 333.8,212.9 333.3,210.2 332.8,208.1 332.3,207.5 331.8,204.8 331.3,201.5 330.8,198.8 330.3,196.1 329.8,194.4 329.3,193.4 328.8,191.3 328.3,188.6 327.8,186.6 327.3,186.3 326.8,185.3 326.3,181.1 325.8,180.5 325.3,177.8 324.8,175.5 324.3,174.5 323.8,172.4 323.3,169.7 322.8,166.4 322.3,164.7 321.8,163.7 321.3,161.6 320.8,158.9 320.3,156.6 319.8,155.6 319.3,152.9 318.8,150.8 318.3,148.1 317.8,145.8 317.3,144.8 316.8,142.7 316.3,140.0 315.8,138.0 315.3,137.7 314.8,136.7 314.3,132.5 313.8,131.9 313.3,129.6 312.8,128.6 312.3,127.1 311.8,126.5 311.3,124.2 310.8,123.2 310.3,119.1 309.8,118.8 309.3,117.8 308.8,116.1 308.3,115.1 307.8,112.4 307.3,110.9 306.8,110.3 306.3,108.2 305.8,107.6 305.3,104.9 304.8,103.0 304.3,102.8 303.8,102.2 303.3,100.2 302.8,99.9 302.3,98.9 301.8,97.6 301.3,97.4 300.8,96.8 300.3,95.1 299.8,94.9 299.3,94.7 298.8,94.1 298.3,92.4 297.8,92.3 297.3,92.1 296.8,91.8 296.3,90.8 295.8,89.6 295.3,89.4 294.8,89.1 294.3,88.1 293.8,87.0 293.3,87.0 292.8,86.9 292.3,86.7 291.8,86.4 291.3,85.4 290.8,84.3 290.3,84.3 289.8,84.2 289.3,84.0 288.8,83.7 288.3,82.7 287.8,81.6 287.3,81.6 286.8,81.6 286.3,81.4 285.8,81.2 285.3,80.6 284.8,78.9 284.3,78.9 283.8,78.9 283.3,78.9 282.8,78.9 282.3,78.7 281.8,78.5 281.3,77.9 280.8,76.2 280.3,76.2 279.8,76.2 279.3,76.2 278.8,76.2 278.3,76.2 277.8,76.2 277.3,76.2 276.8,76.2 276.3,76.2 275.8,76.2 275.3,76.2 274.8,76.2 274.3,76.2 273.8,76.2 273.3,76.0 272.8,75.8 272.3,75.2 271.8,73.5 271.3,73.5 270.8,73.5 270.3,73.5 269.8,73.5 269.3,73.5 268.8,73.5 268.3,73.5 267.8,73.5 267.3,73.5 266.8,73.5 266.3,73.5 265.8,73.5 265.3,73.5 264.8,73.5 264.3,73.5 263.8,73.5 263.3,73.5 262.8,73.3 262.3,73.1 261.8,72.5 261.3,70.8 260.8,70.8 260.3,70.8 259.8,70.8 259.3,70.7 258.8,70.5 258.3,70.2 257.8,69.2 257.3,68.1 256.8,68.1 256.3,68.1 255.8,68.1 255.3,68.1 254.8,68.1 254.3,68.1 253.8,69.2 253.3,70.2 252.8,70.5 252.3,70.7 251.8,70.8 251.3,70.8 250.8,70.8 250.3,70.8 249.8,70.7 249.3,70.6 248.8,70.8 248.3,70.8 247.8,70.8 247.3,70.8 246.8,70.8 246.3,70.8 245.8,71.9 245.3,72.9 244.8,73.2 244.3,73.4 243.8,73.5 243.3,73.5 242.8,73.5 242.3,73.5 241.8,74.6 241.3,75.6 240.8,75.9 240.3,76.1 239.8,76.2 239.3,76.2 238.8,76.2 238.3,76.2 237.8,77.3 237.3,78.3 236.8,78.6 236.3,78.8 235.8,78.9 235.3,80.0 234.8,81.0 234.3,81.3 233.8,81.5 233.3,81.6 232.8,81.6 232.3,81.6 231.8,82.7 231.3,83.7 230.8,84.0 230.3,84.2 229.8,86.0 229.3,86.6 228.8,86.8 228.3,87.0 227.8,88.7 227.3,89.3 226.8,89.5 226.3,90.8 225.8,91.8 225.3,92.1 224.8,92.3 224.3,93.5 223.8,94.5 223.3,94.8 222.8,96.8 222.3,97.4 221.8,99.5 221.3,100.1 220.8,100.3 220.3,102.2 219.8,104.3 219.3,105.3 218.8,107.6 218.3,108.2 217.8,110.3 217.3,110.9 216.8,112.4 216.3,115.1 215.8,116.1 215.3,117.8 214.8,118.8 214.3,121.1 213.8,121.7 213.3,123.2 212.8,126.5 212.3,128.6 211.8,129.6 211.3,131.9 210.8,132.5 210.3,134.0 209.8,135.0 209.3,139.4 208.8,140.4 208.3,142.1 207.8,143.1 207.3,145.4 206.8,148.1 206.3,148.7 205.8,150.8 205.3,152.9 204.8,156.2 204.3,158.3 203.8,161.0 203.3,163.7 202.8,164.7 202.3,167.0 201.8,169.7 201.3,170.3 200.8,174.5 200.3,175.5 199.8,177.2 199.3,178.2 198.8,180.5 198.3,182.6 197.8,185.3 197.3,186.3 196.8,188.0 196.3,191.3 195.8,191.9 195.3,194.0 194.8,196.1 194.3,199.4 193.8,202.1 193.3,202.7 192.8,206.9 192.3,209.6 191.8,212.3 191.3,213.3 190.8,215.6 190.3,220.4 189.8,221.4 189.3,225.8 188.8,226.8 188.3,229.1 187.8,233.9 187.3,234.9 186.8,236.6 186.3,242.0 185.8,243.0 185.3,245.3 184.8,248.0 184.3,250.1 183.8,252.8 183.3,256.1 182.8,258.8 182.3,259.4 181.8,260.9 181.3,261.9 180.8,264.2 180.3,266.9 179.8,269.0 179.3,270.0 178.8,272.3 178.3,274.4 177.8,277.7 177.3,278.3 176.8,279.8 176.3,283.1 175.8,283.7 175.3,287.9 174.8,288.9 174.3,291.2 173.8,291.8 173.3,293.9 172.8,296.0 172.3,297.0 171.8,299.3 171.3,301.4 170.8,302.4 170.3,302.7 169.8,302.9 169.3,304.1 168.8,305.1 168.3,306.8 167.8,307.8 167.3,308.1 166.8,308.3 166.3,308.4 165.8,310.1 165.3,310.7 164.8,310.9 164.3,311.1 163.8,311.1 163.3,312.8 162.8,313.4 162.3,313.6 161.8,313.8 161.3,313.8 160.8,313.8 160.3,313.8 159.8,315.5 159.3,316.1 158.8,316.3 158.3,316.5 157.8,316.5 157.3,316.5 156.8,316.5 156.3,316.5 155.8,317.6 155.3,318.6 154.8,318.9 154.3,319.1 153.8,319.2 153.3,319.2 152.8,319.2 152.3,319.2 151.8,319.2 151.3,319.2 150.8,319.2 150.3,319.2 149.8,319.2 149.3,319.2 148.8,319.2 148.3,319.2 147.8,319.2 147.3,319.2 146.8,319.2 146.3,319.2 145.8,319.2 145.3,319.2 144.8,319.2 144.3,319.2 143.8,319.2 143.3,319.2 142.8,319.2 142.3,319.2 141.8,319.2 141.3,319.2 140.8,319.2 140.3,319.2 139.8,319.2 139.3,319.2 138.8,319.2 138.3,319.2 137.8,319.2 137.3,319.2 136.8,319.2 136.3,319.2 135.8,319.2 135.3,319.2 134.8,319.2 134.3,319.2 133.8,319.2 133.3,319.2 132.8,319.2 132.3,319.2 131.8,319.2 131.3,319.2 130.8,319.2 130.3,319.2 129.8,319.2 129.3,319.2 128.8,319.1 128.3,318.9 127.8,318.6 127.3,317.6 126.8,316.5 126.3,316.5 125.8,316.5 125.3,316.3 124.8,316.1 124.3,315.5 123.8,313.8 123.3,313.8 122.8,313.8 122.3,313.7 121.8,313.5 121.3,313.2 120.8,312.2 120.3,311.1 119.8,311.0 119.3,310.8 118.8,310.5 118.3,309.5 117.8,308.3 117.3,308.1 116.8,307.8 116.3,306.8 115.8,305.6 115.3,305.4 114.8,305.1 114.3,304.1 113.8,302.4 113.3,301.4 112.8,299.7 112.3,298.7 111.8,296.0 111.3,294.5 110.8,293.9 110.3,291.2 109.8,287.9 109.3,285.8 108.8,283.7 108.3,283.1 107.8,280.8 107.3,279.8 106.8,277.7 106.3,274.4 105.8,272.9 105.3,272.3 104.8,269.0 104.3,267.5 103.8,266.9 103.3,264.6 102.8,263.6 102.3,260.9 101.8,258.8 101.3,256.1 100.8,253.8 100.3,252.8 99.8,250.7 99.3,247.4 98.8,244.7 98.3,242.6 97.8,237.6 97.3,236.6 96.8,231.8 96.3,229.1 95.8,226.8 95.3,225.8 94.8,223.1 94.3,221.8 93.8,221.6 93.3,221.0 92.8,217.7 92.3,215.0 91.8,212.9 91.3,210.2 90.8,207.9 90.3,206.9 89.8,204.8 89.3,202.1 88.8,199.8 88.3,198.8 87.8,194.7 87.3,194.4 86.8,193.4 86.3,189.0 85.8,188.0 85.3,185.9 84.8,182.6 84.3,181.1 83.8,180.5 83.3,178.2 82.8,177.2 82.3,172.8 81.8,171.8 81.3,169.1 80.8,167.4 80.3,166.4 79.8,163.7 79.3,161.0 78.8,158.3 78.3,156.2 77.8,154.1"/>
<polygon fill="#0000f0" stroke="none" points="77.8,115.2 78.3,115.3 78.8,115.3 79.3,115.3 79.8,115.5 80.3,115.9 80.8,116.8 81.3,118.9 81.8,121.1 82.3,121.6 82.8,124.0 83.3,124.9 83.8,126.5 84.3,127.0 84.8,129.4 85.3,130.3 85.8,134.8 86.3,135.7 86.8,137.5 87.3,138.4 87.8,141.1 88.3,143.2 88.8,146.5 89.3,148.3 89.8,149.2 90.3,151.9 90.8,154.0 91.3,156.7 91.8,159.1 92.3,160.0 92.8,164.3 93.3,164.8 93.8,168.1 94.3,170.2 94.8,172.4 95.3,172.9 95.8,175.6 96.3,178.0 96.8,178.9 97.3,180.7 97.8,181.6 98.3,183.7 98.8,186.1 99.3,187.0 99.8,189.7 100.3,192.4 100.8,195.1 101.3,197.2 101.8,200.5 102.3,202.6 102.8,204.8 103.3,205.3 103.8,208.0 104.3,210.7 104.8,214.0 105.3,216.7 105.8,218.5 106.3,219.4 106.8,223.9 107.3,224.8 107.8,227.5 108.3,232.3 108.8,234.7 109.3,235.6 109.8,240.1 110.3,241.0 110.8,243.1 111.3,245.8 111.8,248.5 112.3,250.7 112.8,251.2 113.3,253.6 113.8,254.5 114.3,256.6 114.8,259.0 115.3,259.9 115.8,262.6 116.3,264.7 116.8,266.9 117.3,267.4 117.8,269.8 118.3,270.7 118.8,272.5 119.3,273.4 119.8,277.4 120.3,277.7 120.8,278.2 121.3,281.5 121.8,284.2 122.3,285.6 122.8,286.0 123.3,286.9 123.8,288.3 124.3,288.7 124.8,289.6 125.3,291.2 125.8,291.7 126.3,293.5 126.8,293.6 127.3,293.9 127.8,294.4 128.3,296.2 128.8,296.2 129.3,296.1 129.8,296.2 130.3,296.2 130.8,296.3 131.3,296.6 131.8,297.1 132.3,298.9 132.8,298.9 133.3,298.9 133.8,299.0 134.3,299.3 134.8,299.8 135.3,301.6 135.8,301.6 136.3,301.6 136.8,301.6 137.3,301.6 137.8,301.6 138.3,301.6 138.8,301.6 139.3,301.6 139.8,301.6 140.3,301.6 140.8,301.6 141.3,301.6 141.8,301.8 142.3,302.2 142.8,303.1 143.3,304.2 143.8,304.2 144.3,304.2 144.8,304.2 145.3,304.2 145.8,304.2 146.3,304.2 146.8,302.5 147.3,302.0 147.8,301.7 148.3,301.6 148.8,301.6 149.3,301.6 149.8,301.6 150.3,301.6 150.8,301.6 151.3,301.6 151.8,301.6 152.3,301.6 152.8,301.6 153.3,301.6 153.8,301.6 154.3,301.6 154.8,301.6 155.3,301.6 155.8,299.8 156.3,299.3 156.8,299.0 157.3,298.9 157.8,298.9 158.3,297.1 158.8,296.6 159.3,296.3 159.8,296.2 160.3,296.2 160.8,296.1 161.3,294.4 161.8,293.9 162.3,293.6 162.8,292.3 163.3,291.4 163.8,291.0 164.3,289.6 164.8,288.7 165.3,288.3 165.8,288.1 166.3,286.9 166.8,286.0 167.3,284.2 167.8,283.3 168.3,280.9 168.8,278.8 169.3,277.9 169.8,277.5 170.3,273.4 170.8,270.7 171.3,269.8 171.8,267.4 172.3,266.9 172.8,265.3 173.3,264.4 173.8,262.0 174.3,259.3 174.8,256.6 175.3,256.1 175.8,253.9 176.3,251.8 176.8,250.9 177.3,248.5 177.8,246.4 178.3,245.5 178.8,243.1 179.3,240.4 179.8,237.7 180.3,235.0 180.8,232.3 181.3,230.2 181.8,226.9 182.3,224.8 182.8,222.1 183.3,219.4 183.8,216.7 184.3,214.0 184.8,211.3 185.3,208.6 185.8,207.7 186.3,205.3 186.8,202.6 187.3,200.5 187.8,197.8 188.3,196.9 188.8,192.4 189.3,191.5 189.8,189.7 190.3,187.0 190.8,184.3 191.3,183.4 191.8,181.6 192.3,180.7 192.8,178.9 193.3,176.2 193.8,175.3 194.3,173.5 194.8,170.2 195.3,167.5 195.8,167.0 196.3,164.8 196.8,162.1 197.3,161.6 197.8,159.4 198.3,156.7 198.8,151.9 199.3,151.0 199.8,149.2 200.3,145.9 200.8,143.8 201.3,142.9 201.8,140.5 202.3,137.8 202.8,137.3 203.3,133.0 203.8,132.1 204.3,131.7 204.8,130.3 205.3,127.0 205.8,124.9 206.3,124.0 206.8,122.2 207.3,121.3 207.8,118.9 208.3,118.4 208.8,116.8 209.3,114.1 209.8,111.4 210.3,110.5 210.8,110.1 211.3,106.0 211.8,105.1 212.3,103.3 212.8,102.4 213.3,100.0 213.8,99.5 214.3,97.9 214.8,97.0 215.3,95.2 215.8,94.3 216.3,92.5 216.8,91.6 217.3,91.2 217.8,89.8 218.3,88.9 218.8,88.5 219.3,87.1 219.8,86.2 220.3,83.8 220.8,83.3 221.3,83.0 221.8,81.7 222.3,80.8 222.8,80.4 223.3,80.2 223.8,79.0 224.3,78.1 224.8,77.7 225.3,77.5 225.8,77.5 226.3,76.3 226.8,75.4 227.3,75.0 227.8,74.8 228.3,74.8 228.8,74.8 229.3,74.8 229.8,73.6 230.3,72.7 230.8,72.3 231.3,70.9 231.8,70.0 232.3,69.6 232.8,69.4 233.3,69.4 233.8,68.2 234.3,67.3 234.8,66.9 235.3,66.7 235.8,66.7 236.3,66.7 236.8,66.7 237.3,66.7 237.8,66.7 238.3,66.6 238.8,65.5 239.3,64.6 239.8,64.2 240.3,64.0 240.8,64.0 241.3,64.0 241.8,64.0 242.3,64.0 242.8,64.0 243.3,62.2 243.8,61.7 244.3,61.4 244.8,61.3 245.3,61.3 245.8,61.2 246.3,61.2 246.8,61.3 247.3,61.3 247.8,61.2 248.3,61.2 248.8,61.2 249.3,61.3 249.8,61.2 250.3,61.2 250.8,60.1 251.3,59.2 251.8,58.8 252.3,58.6 252.8,58.6 253.3,58.6 253.8,58.6 254.3,58.6 254.8,58.6 255.3,58.6 255.8,58.6 256.3,58.6 256.8,58.6 257.3,58.6 257.8,58.6 258.3,58.6 258.8,58.6 259.3,58.6 259.8,58.6 260.3,58.6 260.8,58.6 261.3,58.6 261.8,58.6 262.3,58.6 262.8,58.6 263.3,58.6 263.8,58.6 264.3,58.6 264.8,58.6 265.3,58.6 265.8,58.6 266.3,58.6 266.8,58.6 267.3,58.6 267.8,58.6 268.3,58.6 268.8,58.6 269.3,58.6 269.8,58.6 270.3,58.6 270.8,58.6 271.3,58.6 271.8,58.6 272.3,58.6 272.8,58.6 273.3,58.6 273.8,58.6 274.3,58.6 274.8,58.6 275.3,58.6 275.8,58.6 276.3,58.6 276.8,58.6 277.3,58.7 277.8,59.0 278.3,59.5 278.8,61.3 279.3,61.3 279.8,61.2 280.3,61.2 280.8,61.2 281.3,61.3 281.8,61.3 282.3,61.3 282.8,61.3 283.3,61.3 283.8,61.5 284.3,61.9 284.8,62.8 285.3,64.0 285.8,64.0 286.3,64.0 286.8,64.0 287.3,64.0 287.8,64.0 288.3,64.0 288.8,64.0 289.3,64.2 289.8,64.6 290.3,65.5 290.8,66.7 291.3,66.7 291.8,66.7 292.3,66.7 292.8,66.9 293.3,67.3 293.8,68.2 294.3,69.4 294.8,69.4 295.3,69.5 295.8,69.8 296.3,70.3 296.8,72.0 297.3,72.1 297.8,72.1 298.3,72.1 298.8,72.1 299.3,72.3 299.8,72.7 300.3,73.6 300.8,74.8 301.3,74.9 301.8,75.2 302.3,75.7 302.8,77.5 303.3,77.5 303.8,77.7 304.3,78.1 304.8,79.0 305.3,80.2 305.8,80.3 306.3,80.6 306.8,81.1 307.3,82.9 307.8,82.9 308.3,83.1 308.8,83.5 309.3,84.4 309.8,85.7 310.3,86.0 310.8,86.5 311.3,88.5 311.8,88.9 312.3,89.8 312.8,91.4 313.3,91.9 313.8,93.7 314.3,93.8 314.8,94.1 315.3,94.6 315.8,96.8 316.3,97.3 316.8,99.5 317.3,100.0 317.8,102.0 318.3,102.4 318.8,103.3 319.3,105.4 319.8,107.6 320.3,108.1 320.8,110.5 321.3,111.4 321.8,113.2 322.3,114.1 322.8,116.8 323.3,118.4 323.8,118.9 324.3,121.1 324.8,121.6 325.3,124.9 325.8,126.7 326.3,127.6 326.8,129.7 327.3,132.1 327.8,133.0 328.3,135.1 328.8,137.5 329.3,138.4 329.8,141.1 330.3,143.8 330.8,145.9 331.3,148.3 331.8,149.2 332.3,151.3 332.8,154.0 333.3,156.7 333.8,159.1 334.3,160.0 334.8,162.7 335.3,165.4 335.8,168.1 336.3,169.7 336.8,170.2 337.3,172.6 337.8,173.5 338.3,178.0 338.8,178.9 339.3,180.7 339.8,181.6 340.3,184.3 340.8,186.1 341.3,187.0 341.8,189.7 342.3,192.4 342.8,194.5 343.3,197.2 343.8,199.6 344.3,200.5 344.8,202.6 345.3,205.9 345.8,208.6 346.3,211.3 346.8,213.4 347.3,216.1 347.8,218.8 348.3,221.5 348.8,224.8 349.3,227.5 349.8,229.6 350.3,232.9 350.8,234.7 351.3,235.6 351.8,238.3 352.3,241.0 352.8,243.1 353.3,245.5 353.8,246.4 354.3,249.1 354.8,250.9 355.3,251.8 355.8,256.1 356.3,256.6 356.8,259.3 357.3,261.5 357.8,262.0 358.3,264.0 358.8,264.4 359.3,265.3 359.8,269.6 360.3,270.1 360.8,273.4 361.3,275.2 361.8,276.1 362.3,278.8 362.8,280.2 363.3,280.6 363.8,281.5 364.3,284.2 364.8,286.3 365.3,288.5 365.8,289.0 366.3,290.8 366.8,290.8 367.3,290.8 367.8,291.0 368.3,291.4 368.8,292.3 369.3,293.7 369.8,294.1 370.3,295.0 370.8,296.2 371.3,296.2 371.8,296.2 372.3,296.2 372.8,296.2 373.3,296.4 373.8,296.8 374.3,297.7 374.8,298.9 375.3,298.9 375.8,298.9 376.3,299.1 376.8,299.5 377.3,300.4 377.8,301.6 378.3,301.6 378.8,301.6 379.3,301.6 379.8,301.6 380.3,301.6 380.8,301.6 381.3,301.6 381.8,301.6 382.3,301.6 382.8,301.6 383.3,301.7 383.8,302.0 384.3,302.5 384.8,304.2 385.3,304.2 385.8,304.2 386.3,304.2 386.8,304.2 387.3,304.2 387.8,304.2 388.3,304.2 388.8,304.2 389.3,304.2 389.8,302.5 390.3,302.0 390.8,301.7 391.3,301.6 391.8,301.6 392.3,301.6 392.8,301.6 393.3,301.6 393.8,301.6 394.3,301.6 394.8,301.6 395.3,301.6 395.8,300.4 396.3,299.5 396.8,299.1 397.3,298.9 397.8,298.9 398.3,298.9 398.8,298.9 399.3,298.9 399.8,298.9 400.3,298.9 400.8,297.7 401.3,296.8 401.8,296.4 402.3,296.2 402.8,296.2 403.3,296.2 403.8,295.0 404.3,294.1 404.8,293.7 405.3,291.7 405.8,291.2 406.3,289.6 406.8,288.7 407.3,288.3 407.8,288.1 408.3,286.3 408.8,285.8 409.3,284.2 409.8,283.3 410.3,281.5 410.8,280.6 411.3,278.2 411.8,275.5 412.3,275.0 412.8,270.7 413.3,269.8 413.8,269.4 414.3,268.0 414.8,264.7 415.3,262.6 415.8,259.9 416.3,259.0 416.8,256.6 417.3,256.1 417.8,253.9 418.3,251.8 418.8,250.9 419.3,249.1 419.8,246.4 420.3,243.7 420.8,242.8 421.3,240.4 421.8,238.3 422.3,235.0 422.8,232.9 423.3,229.6 423.8,227.5 424.3,224.8 424.8,222.1 425.3,219.4 425.8,216.7 426.3,215.8 426.8,211.3 427.3,210.4 427.8,208.0 428.3,205.3 428.8,203.2 429.3,199.9 429.8,199.4 430.3,194.5 430.8,191.8 431.3,191.3 431.8,187.0 432.3,186.1 432.8,183.7 433.3,181.0 433.8,178.3 434.3,176.2 434.8,175.3 435.3,173.5 435.8,170.8 436.3,168.1 436.8,165.4 437.3,162.7 437.8,161.8 438.3,157.3 438.8,156.4 439.3,151.3 439.8,149.2 440.3,146.5 440.8,143.2 441.3,141.1 441.8,140.2 442.3,137.8 442.8,135.1 443.3,132.4 443.8,130.3 444.3,127.6 444.8,126.7 445.3,124.9 445.8,124.0 446.3,121.6 446.8,119.5 447.3,116.8 447.8,114.1 448.3,111.4 448.8,110.5 449.3,108.7 449.8,107.8 450.3,105.4 450.8,102.7 451.3,100.6 451.8,99.7 452.3,97.9 452.8,97.0 453.3,96.6 453.8,96.4 454.3,96.4 454.8,96.4 455.3,96.3 455.3,112.2 454.8,113.1 454.3,115.5 453.8,116.0 453.3,118.2 452.8,120.9 452.3,123.6 451.8,126.3 451.3,128.4 450.8,129.3 450.3,131.7 449.8,132.2 449.3,134.4 448.8,137.1 448.3,139.2 447.8,141.9 447.3,144.6 446.8,145.5 446.3,147.9 445.8,150.0 445.3,153.3 444.8,156.0 444.3,160.8 443.8,161.7 443.3,166.2 442.8,167.1 442.3,169.5 441.8,172.2 441.3,174.9 440.8,177.6 440.3,180.3 439.8,180.8 439.3,183.0 438.8,187.8 438.3,188.7 437.8,190.5 437.3,191.4 436.8,195.9 436.3,196.8 435.8,201.3 435.3,204.0 434.8,204.9 434.3,206.7 433.8,210.0 433.3,212.1 432.8,214.8 432.3,215.7 431.8,220.2 431.3,221.1 430.8,223.5 430.3,226.2 429.8,228.9 429.3,231.6 428.8,234.3 428.3,236.4 427.8,239.7 427.3,241.8 426.8,245.1 426.3,247.2 425.8,248.1 425.3,250.5 424.8,253.2 424.3,255.9 423.8,256.4 423.3,258.6 422.8,260.7 422.3,261.6 421.8,263.4 421.3,266.7 420.8,267.2 420.3,269.4 419.8,271.5 419.3,274.8 418.8,275.3 418.3,275.6 417.8,279.6 417.3,280.5 416.8,282.3 416.3,285.0 415.8,285.9 415.3,288.3 414.8,288.8 414.3,291.0 413.8,293.1 413.3,294.0 412.8,294.4 412.3,295.8 411.8,296.7 411.3,298.5 410.8,299.4 410.3,299.8 409.8,300.0 409.3,300.0 408.8,301.8 408.3,302.3 407.8,302.6 407.3,302.7 406.8,302.7 406.3,304.5 405.8,305.0 405.3,305.3 404.8,305.4 404.3,305.4 403.8,305.5 403.3,305.5 402.8,306.6 402.3,307.5 401.8,307.9 401.3,308.1 400.8,308.1 400.3,308.1 399.8,308.2 399.3,308.1 398.8,308.2 398.3,309.9 397.8,310.4 397.3,310.7 396.8,310.8 396.3,310.8 395.8,310.9 395.3,310.8 394.8,310.9 394.3,310.8 393.8,310.9 393.3,310.9 392.8,310.8 392.3,310.8 391.8,310.9 391.3,310.9 390.8,310.9 390.3,310.9 389.8,310.9 389.3,310.9 388.8,310.9 388.3,310.9 387.8,310.9 387.3,310.9 386.8,310.9 386.3,310.9 385.8,310.9 385.3,310.9 384.8,310.9 384.3,310.9 383.8,310.9 383.3,310.9 382.8,310.9 382.3,310.9 381.8,310.8 381.3,310.9 380.8,310.9 380.3,310.8 379.8,310.8 379.3,310.8 378.8,310.8 378.3,310.8 377.8,310.9 377.3,310.8 376.8,310.8 376.3,310.8 375.8,310.8 375.3,310.8 374.8,310.8 374.3,310.6 373.8,310.2 373.3,309.3 372.8,308.1 372.3,308.2 371.8,308.1 371.3,308.1 370.8,308.0 370.3,307.7 369.8,307.2 369.3,305.4 368.8,305.4 368.3,305.4 367.8,305.2 367.3,304.8 366.8,303.9 366.3,302.7 365.8,302.6 365.3,302.3 364.8,301.8 364.3,300.0 363.8,299.8 363.3,299.4 362.8,298.5 362.3,297.3 361.8,297.1 361.3,296.7 360.8,295.8 360.3,294.0 359.8,293.1 359.3,291.0 358.8,289.0 358.3,288.6 357.8,287.7 357.3,285.6 356.8,283.4 356.3,282.9 355.8,280.2 355.3,276.9 354.8,275.1 354.3,274.2 353.8,272.4 353.3,271.5 352.8,268.8 352.3,267.0 351.8,266.1 351.3,263.4 350.8,261.6 350.3,260.7 349.8,258.6 349.3,255.9 348.8,253.2 348.3,250.8 347.8,249.9 347.3,247.8 346.8,245.1 346.3,242.4 345.8,240.2 345.3,239.7 344.8,236.4 344.3,234.3 343.8,231.6 343.3,228.3 342.8,225.6 342.3,222.9 341.8,220.2 341.3,218.1 340.8,215.4 340.3,212.7 339.8,209.4 339.3,207.3 338.8,204.9 338.3,204.0 337.8,201.3 337.3,199.2 336.8,196.5 336.3,194.3 335.8,193.8 335.3,191.1 334.8,188.4 334.3,186.2 333.8,185.7 333.3,183.5 332.8,183.0 332.3,180.3 331.8,177.9 331.3,177.0 330.8,174.9 330.3,172.2 329.8,169.5 329.3,166.8 328.8,164.4 328.3,163.5 327.8,160.8 327.3,159.0 326.8,158.1 326.3,153.6 325.8,152.7 325.3,150.6 324.8,147.9 324.3,145.2 323.8,142.8 323.3,141.9 322.8,140.3 322.3,139.8 321.8,136.5 321.3,134.4 320.8,132.2 320.3,131.7 319.8,128.4 319.3,126.6 318.8,125.7 318.3,124.1 317.8,123.6 317.3,120.9 316.8,119.0 316.3,118.7 315.8,118.2 315.3,115.8 314.8,114.9 314.3,112.2 313.8,110.6 313.3,110.1 312.8,108.1 312.3,107.7 311.8,106.8 311.3,104.1 310.8,102.8 310.3,102.5 309.8,102.0 309.3,100.0 308.8,99.6 308.3,98.7 307.8,97.1 307.3,96.6 306.8,94.8 306.3,94.8 305.8,94.7 305.3,94.4 304.8,93.9 304.3,91.7 303.8,91.2 303.3,89.4 302.8,89.4 302.3,89.3 301.8,89.0 301.3,88.5 300.8,86.7 300.3,86.7 299.8,86.6 299.3,86.3 298.8,85.8 298.3,83.8 297.8,83.4 297.3,82.5 296.8,81.3 296.3,81.3 295.8,81.3 295.3,81.3 294.8,81.3 294.3,81.2 293.8,80.9 293.3,80.4 292.8,78.6 292.3,78.6 291.8,78.5 291.3,78.2 290.8,77.7 290.3,75.9 289.8,75.9 289.3,75.9 288.8,75.9 288.3,75.9 287.8,75.7 287.3,75.3 286.8,74.4 286.3,73.2 285.8,73.2 285.3,73.2 284.8,73.2 284.3,73.2 283.8,73.1 283.3,72.8 282.8,72.3 282.3,70.5 281.8,70.5 281.3,70.5 280.8,70.5 280.3,70.5 279.8,70.5 279.3,70.5 278.8,70.5 278.3,70.5 277.8,70.5 277.3,70.4 276.8,70.1 276.3,69.6 275.8,67.8 275.3,67.8 274.8,67.8 274.3,67.8 273.8,67.8 273.3,67.8 272.8,67.8 272.3,67.8 271.8,67.8 271.3,67.8 270.8,67.8 270.3,67.8 269.8,67.8 269.3,67.8 268.8,67.8 268.3,67.8 267.8,67.8 267.3,67.8 266.8,67.8 266.3,67.8 265.8,67.8 265.3,67.8 264.8,67.8 264.3,67.8 263.8,67.8 263.3,67.8 262.8,67.8 262.3,67.8 261.8,67.8 261.3,67.8 260.8,67.8 260.3,67.8 259.8,67.8 259.3,67.8 258.8,67.8 258.3,67.8 257.8,67.8 257.3,67.8 256.8,67.8 256.3,67.8 255.8,67.8 255.3,67.8 254.8,67.8 254.3,67.8 253.8,69.6 253.3,70.1 252.8,70.4 252.3,70.5 251.8,70.5 251.3,70.5 250.8,70.5 250.3,70.5 249.8,70.5 249.3,70.5 248.8,70.5 248.3,70.5 247.8,70.5 247.3,70.5 246.8,70.5 246.3,72.3 245.8,72.8 245.3,73.1 244.8,73.2 244.3,73.2 243.8,73.2 243.3,73.2 242.8,73.2 242.3,73.2 241.8,74.4 241.3,75.3 240.8,75.7 240.3,75.9 239.8,75.9 239.3,75.9 238.8,75.9 238.3,75.9 237.8,77.7 237.3,78.2 236.8,78.5 236.3,78.6 235.8,78.6 235.3,78.6 234.8,80.4 234.3,80.9 233.8,81.2 233.3,81.3 232.8,81.3 232.3,82.5 231.8,83.4 231.3,83.8 230.8,84.0 230.3,84.0 229.8,84.0 229.3,85.8 228.8,86.3 228.3,86.6 227.8,87.9 227.3,88.8 226.8,89.2 226.3,89.4 225.8,89.4 225.3,90.6 224.8,91.5 224.3,93.9 223.8,94.4 223.3,94.7 222.8,96.6 222.3,98.7 221.8,99.6 221.3,100.0 220.8,100.2 220.3,102.0 219.8,102.5 219.3,104.7 218.8,106.8 218.3,107.7 217.8,108.1 217.3,112.2 216.8,113.1 216.3,114.9 215.8,115.8 215.3,116.2 214.8,118.2 214.3,120.9 213.8,123.6 213.3,125.7 212.8,126.6 212.3,127.0 211.8,129.0 211.3,131.7 210.8,132.2 210.3,133.8 209.8,137.1 209.3,137.6 208.8,137.9 208.3,141.9 207.8,144.6 207.3,145.5 206.8,147.3 206.3,148.2 205.8,152.7 205.3,153.6 204.8,156.0 204.3,156.5 203.8,161.4 203.3,163.5 202.8,166.2 202.3,167.1 201.8,168.9 201.3,171.6 200.8,174.3 200.3,175.2 199.8,177.0 199.3,180.3 198.8,180.8 198.3,183.0 197.8,185.7 197.3,186.2 196.8,188.4 196.3,191.1 195.8,191.6 195.3,193.8 194.8,196.5 194.3,199.2 193.8,201.3 193.3,202.2 192.8,204.6 192.3,209.4 191.8,210.3 191.3,212.1 190.8,213.0 190.3,215.4 189.8,218.1 189.3,220.8 188.8,223.5 188.3,226.2 187.8,228.9 187.3,231.6 186.8,233.7 186.3,237.0 185.8,239.1 185.3,241.8 184.8,244.5 184.3,247.2 183.8,249.9 183.3,250.8 182.8,253.2 182.3,255.3 181.8,256.2 181.3,258.6 180.8,260.7 180.3,263.4 179.8,264.3 179.3,266.1 178.8,268.8 178.3,269.7 177.8,272.1 177.3,272.6 176.8,274.2 176.3,277.5 175.8,278.0 175.3,282.3 174.8,283.2 174.3,283.6 173.8,285.6 173.3,287.7 172.8,288.6 172.3,291.0 171.8,291.5 171.3,293.7 170.8,295.8 170.3,296.7 169.8,297.1 169.3,297.3 168.8,299.1 168.3,299.6 167.8,299.9 167.3,301.2 166.8,302.1 166.3,302.5 165.8,302.7 165.3,302.7 164.8,302.7 164.3,303.9 163.8,304.8 163.3,305.2 162.8,305.4 162.3,305.4 161.8,306.6 161.3,307.5 160.8,307.9 160.3,308.1 159.8,308.1 159.3,308.1 158.8,308.2 158.3,308.1 157.8,309.3 157.3,310.2 156.8,310.6 156.3,310.8 155.8,310.8 155.3,310.8 154.8,310.8 154.3,310.8 153.8,310.8 153.3,310.8 152.8,310.8 152.3,310.9 151.8,310.9 151.3,310.9 150.8,310.8 150.3,310.9 149.8,310.9 149.3,310.8 148.8,310.9 148.3,310.9 147.8,310.9 147.3,310.9 146.8,310.9 146.3,310.9 145.8,310.9 145.3,310.9 144.8,310.9 144.3,310.9 143.8,310.9 143.3,310.9 142.8,310.9 142.3,310.9 141.8,310.9 141.3,310.9 140.8,310.9 140.3,310.9 139.8,310.9 139.3,310.9 138.8,310.9 138.3,310.8 137.8,310.8 137.3,310.8 136.8,310.8 136.3,310.9 135.8,310.8 135.3,310.9 134.8,310.8 134.3,310.8 133.8,310.7 133.3,310.4 132.8,309.9 132.3,308.1 131.8,308.1 131.3,308.2 130.8,308.1 130.3,308.1 129.8,308.0 129.3,307.7 128.8,307.2 128.3,305.5 127.8,305.5 127.3,305.4 126.8,305.4 126.3,305.4 125.8,305.4 125.3,305.2 124.8,304.8 124.3,303.9 123.8,302.5 123.3,302.1 122.8,301.2 122.3,300.0 121.8,299.8 121.3,299.4 120.8,298.5 120.3,297.2 119.8,296.9 119.3,296.4 118.8,294.2 118.3,293.7 117.8,291.8 117.3,291.5 116.8,291.0 116.3,288.3 115.8,286.3 115.3,285.9 114.8,285.0 114.3,282.3 113.8,278.0 113.3,277.5 112.8,275.1 112.3,274.2 111.8,272.4 111.3,271.5 110.8,269.4 110.3,266.7 109.8,264.3 109.3,263.4 108.8,261.8 108.3,261.3 107.8,258.0 107.3,256.2 106.8,255.3 106.3,252.6 105.8,250.8 105.3,249.9 104.8,245.4 104.3,244.5 103.8,240.0 103.3,239.1 102.8,236.4 102.3,231.6 101.8,229.2 101.3,228.3 100.8,224.0 100.3,223.5 99.8,220.8 99.3,217.5 98.8,214.8 98.3,213.0 97.8,212.1 97.3,209.4 96.8,207.3 96.3,204.0 95.8,201.9 95.3,199.2 94.8,196.5 94.3,194.5 93.8,194.1 93.3,193.2 92.8,190.5 92.3,186.2 91.8,185.7 91.3,183.3 90.8,182.4 90.3,180.6 89.8,179.7 89.3,177.0 88.8,174.9 88.3,171.6 87.8,169.8 87.3,168.9 86.8,164.4 86.3,163.5 85.8,160.8 85.3,158.7 84.8,156.0 84.3,153.8 83.8,153.3 83.3,150.9 82.8,150.0 82.3,145.2 81.8,143.0 81.3,142.5 80.8,140.1 80.3,139.2 79.8,137.1 79.3,133.8 78.8,132.2 78.3,131.7 77.8,129.3"/>
<polygon fill="#000" stroke="none" points="83.8,129.4 84.3,131.5 84.8,133.6 85.3,135.8 85.8,138.1 86.3,140.5 86.8,143.1 87.3,145.7 87.8,148.5 88.3,151.3 88.8,154.2 89.3,157.0 89.8,159.8 90.3,162.5 90.8,165.1 91.3,167.7 91.8,170.1 92.3,172.5 92.8,174.8 93.3,177.2 93.8,179.5 94.3,181.9 94.8,184.4 95.3,186.9 95.8,189.4 96.3,192.0 96.8,194.7 97.3,197.4 97.8,200.2 98.3,203.1 98.8,206.0 99.3,208.9 99.8,212.0 100.3,215.1 100.8,218.2 101.3,221.4 101.8,224.6 102.3,227.8 102.8,231.0 103.3,234.2 103.8,237.3 104.3,240.3 104.8,243.2 105.3,245.9 105.8,248.4 106.3,250.8 106.8,252.9 107.3,254.9 107.8,256.8 108.3,258.7 108.8,260.5 109.3,262.3 109.8,264.2 110.3,266.0 110.8,267.9 111.3,269.8 111.8,271.8 112.3,273.7 112.8,275.6 113.3,277.6 113.8,279.5 114.3,281.5 114.8,283.4 115.3,285.3 115.8,287.1 116.3,288.9 116.8,290.5 117.3,292.1 117.8,293.5 118.3,294.8 118.8,296.0 119.3,297.0 119.8,298.0 120.3,298.9 120.8,299.7 121.3,300.4 121.8,301.1 122.3,301.8 122.8,302.4 123.3,303.0 123.8,303.6 124.3,304.1 124.8,304.7 125.3,305.1 125.8,305.6 126.3,306.1 126.8,306.5 127.3,306.9 127.8,307.3 128.3,307.7 128.8,308.1 129.3,308.5 129.8,308.8 130.3,309.2 130.8,309.5 131.3,309.8 131.8,310.1 132.3,310.4 132.8,310.7 133.3,310.9 133.8,311.1 134.3,311.3 134.8,311.5 135.3,311.6 135.8,311.8 136.3,311.9 136.8,312.1 137.3,312.2 137.8,312.3 138.3,312.4 138.8,312.5 139.3,312.6 139.8,312.7 140.3,312.7 140.8,312.8 141.3,312.8 141.8,312.8 142.3,312.8 142.8,312.8 143.3,312.8 143.8,312.7 144.3,312.7 144.8,312.6 145.3,312.7 145.8,312.8 146.3,312.8 146.8,312.8 147.3,312.8 147.8,312.8 148.3,312.8 148.8,312.8 149.3,312.7 149.8,312.6 150.3,312.6 150.8,312.5 151.3,312.4 151.8,312.3 152.3,312.1 152.8,312.0 153.3,311.9 153.8,311.7 154.3,311.6 154.8,311.4 155.3,311.2 155.8,311.0 156.3,310.8 156.8,310.6 157.3,310.3 157.8,310.0 158.3,309.7 158.8,309.4 159.3,309.1 159.8,308.7 160.3,308.3 160.8,308.0 161.3,307.6 161.8,307.2 162.3,306.8 162.8,306.3 163.3,305.9 163.8,305.4 164.3,304.9 164.8,304.4 165.3,303.9 165.8,303.4 166.3,302.8 166.8,302.2 167.3,301.5 167.8,300.9 168.3,300.1 168.8,299.4 169.3,298.5 169.8,297.6 170.3,296.6 170.8,295.5 171.3,294.3 171.8,293.0 172.3,291.5 172.8,289.9 173.3,288.2 173.8,286.4 174.3,284.5 174.8,282.6 175.3,280.7 175.8,278.8 176.3,276.8 176.8,274.9 177.3,272.9 177.8,271.0 178.3,269.1 178.8,267.2 179.3,265.3 179.8,263.4 180.3,261.6 180.8,259.8 181.3,257.9 181.8,256.0 182.3,254.1 182.8,252.1 183.3,249.8 183.8,247.5 184.3,244.9 184.8,242.1 185.3,239.1 185.8,236.1 186.3,232.9 186.8,229.7 187.3,226.5 187.8,223.3 188.3,220.1 188.8,216.9 189.3,213.8 189.8,210.8 190.3,207.7 190.8,204.8 191.3,201.9 191.8,199.1 192.3,196.3 192.8,193.6 193.3,191.0 193.8,188.4 194.3,185.9 194.8,183.4 195.3,181.0 195.8,178.6 196.3,176.2 196.8,173.9 197.3,171.5 197.8,169.1 198.3,166.7 198.8,164.1 199.3,161.5 199.8,158.7 200.3,155.9 200.8,153.0 201.3,150.2 201.8,147.4 202.3,144.7 202.8,142.0 203.3,139.5 203.8,137.2 204.3,134.9 204.8,132.7 205.3,130.7 205.8,128.6 206.3,126.7 206.8,124.8 207.3,122.9 207.8,121.1 208.3,119.2 208.8,117.4 209.3,115.5 209.8,113.7 210.3,111.9 210.8,110.1 211.3,108.3 211.8,106.5 212.3,104.7 212.8,103.0 213.3,101.3 213.8,99.6 214.3,98.0 214.8,96.4 215.3,94.9 215.8,93.4 216.3,92.0 216.8,90.6 217.3,89.2 217.8,88.0 218.3,86.7 218.8,85.5 219.3,84.4 219.8,83.3 220.3,82.2 220.8,81.2 221.3,80.3 221.8,79.3 222.3,78.4 222.8,77.6 223.3,76.7 223.8,75.9 224.3,75.1 224.8,74.4 225.3,73.6 225.8,72.9 226.3,72.2 226.8,71.5 227.3,70.9 227.8,70.3 228.3,69.7 228.8,69.1 229.3,68.5 229.8,68.0 230.3,67.4 230.8,66.9 231.3,66.4 231.8,65.9 232.3,65.4 232.8,64.9 233.3,64.4 233.8,64.0 234.3,63.5 234.8,63.1 235.3,62.6 235.8,62.2 236.3,61.8 236.8,61.4 237.3,61.1 237.8,60.7 238.3,60.3 238.8,60.0 239.3,59.7 239.8,59.3 240.3,59.0 240.8,58.7 241.3,58.4 241.8,58.1 242.3,57.8 242.8,57.6 243.3,57.3 243.8,57.0 244.3,56.7 244.8,56.5 245.3,56.2 245.8,56.0 246.3,55.8 246.8,55.6 247.3,55.4 247.8,55.2 248.3,55.0 248.8,54.8 249.3,54.7 249.8,54.5 250.3,54.4 250.8,54.3 251.3,54.2 251.8,54.1 252.3,54.0 252.8,53.9 253.3,53.8 253.8,53.7 254.3,53.7 254.8,53.6 255.3,53.5 255.8,53.4 256.3,53.4 256.8,53.3 257.3,53.2 257.8,53.2 258.3,53.1 258.8,53.1 259.3,53.0 259.8,53.0 260.3,52.9 260.8,52.9 261.3,52.8 261.8,52.8 262.3,52.8 262.8,52.8 263.3,52.7 263.8,52.7 264.3,52.7 264.8,52.7 265.3,52.7 265.8,52.7 266.3,52.7 266.8,52.7 267.3,52.7 267.8,52.7 268.3,52.8 268.8,52.8 269.3,52.8 269.8,52.8 270.3,52.9 270.8,52.9 271.3,53.0 271.8,53.1 272.3,53.2 272.8,53.2 273.3,53.3 273.8,53.4 274.3,53.5 274.8,53.6 275.3,53.7 275.8,53.8 276.3,53.9 276.8,54.1 277.3,54.2 277.8,54.3 278.3,54.4 278.8,54.6 279.3,54.7 279.8,54.9 280.3,55.1 280.8,55.2 281.3,55.4 281.8,55.6 282.3,55.9 282.8,56.1 283.3,56.3 283.8,56.6 284.3,56.9 284.8,57.1 285.3,57.4 285.8,57.7 286.3,58.0 286.8,58.3 287.3,58.5 287.8,58.8 288.3,59.2 288.8,59.5 289.3,59.8 289.8,60.1 290.3,60.5 290.8,60.8 291.3,61.2 291.8,61.6 292.3,62.0 292.8,62.4 293.3,62.8 293.8,63.2 294.3,63.7 294.8,64.1 295.3,64.6 295.8,65.1 296.3,65.6 296.8,66.1 297.3,66.6 297.8,67.1 298.3,67.6 298.8,68.1 299.3,68.6 299.8,69.1 300.3,69.7 300.8,70.2 301.3,70.8 301.8,71.4 302.3,71.9 302.8,72.6 303.3,73.2 303.8,73.8 304.3,74.5 304.8,75.1 305.3,75.8 305.8,76.5 306.3,77.2 306.8,77.9 307.3,78.7 307.8,79.5 308.3,80.3 308.8,81.1 309.3,81.9 309.8,82.8 310.3,83.7 310.8,84.6 311.3,85.6 311.8,86.6 312.3,87.7 312.8,88.7 313.3,89.9 313.8,91.0 314.3,92.2 314.8,93.5 315.3,94.8 315.8,96.1 316.3,97.4 316.8,98.8 317.3,100.3 317.8,101.8 318.3,103.3 318.8,104.8 319.3,106.4 319.8,108.0 320.3,109.7 320.8,111.3 321.3,113.0 321.8,114.8 322.3,116.5 322.8,118.3 323.3,120.0 323.8,121.8 324.3,123.7 324.8,125.5 325.3,127.5 325.8,129.4 326.3,131.5 326.8,133.6 327.3,135.8 327.8,138.1 328.3,140.5 328.8,143.1 329.3,145.7 329.8,148.5 330.3,151.3 330.8,154.2 331.3,157.0 331.8,159.8 332.3,162.5 332.8,165.1 333.3,167.7 333.8,170.1 334.3,172.5 334.8,174.8 335.3,177.2 335.8,179.5 336.3,181.9 336.8,184.4 337.3,186.9 337.8,189.4 338.3,192.0 338.8,194.7 339.3,197.4 339.8,200.2 340.3,203.1 340.8,206.0 341.3,208.9 341.8,212.0 342.3,215.1 342.8,218.2 343.3,221.4 343.8,224.6 344.3,227.8 344.8,231.0 345.3,234.2 345.8,237.3 346.3,240.3 346.8,243.2 347.3,245.9 347.8,248.4 348.3,250.8 348.8,252.9 349.3,254.9 349.8,256.8 350.3,258.7 350.8,260.5 351.3,262.3 351.8,264.2 352.3,266.0 352.8,267.9 353.3,269.8 353.8,271.8 354.3,273.7 354.8,275.6 355.3,277.6 355.8,279.5 356.3,281.5 356.8,283.4 357.3,285.3 357.8,287.1 358.3,288.9 358.8,290.5 359.3,292.1 359.8,293.5 360.3,294.8 360.8,296.0 361.3,297.0 361.8,298.0 362.3,298.9 362.8,299.7 363.3,300.4 363.8,301.1 364.3,301.8 364.8,302.4 365.3,303.0 365.8,303.6 366.3,304.1 366.8,304.7 367.3,305.1 367.8,305.6 368.3,306.1 368.8,306.5 369.3,306.9 369.8,307.3 370.3,307.7 370.8,308.1 371.3,308.5 371.8,308.8 372.3,309.2 372.8,309.5 373.3,309.8 373.8,310.1 374.3,310.4 374.8,310.7 375.3,310.9 375.8,311.1 376.3,311.3 376.8,311.5 377.3,311.6 377.8,311.8 378.3,311.9 378.8,312.1 379.3,312.2 379.8,312.3 380.3,312.4 380.8,312.5 381.3,312.6 381.8,312.7 382.3,312.7 382.8,312.8 383.3,312.8 383.8,312.8 384.3,312.8 384.8,312.8 385.3,312.8 385.8,312.7 386.3,312.7 386.8,312.6 387.3,312.7 387.8,312.8 388.3,312.8 388.8,312.8 389.3,312.8 389.8,312.8 390.3,312.8 390.8,312.8 391.3,312.7 391.8,312.6 392.3,312.6 392.8,312.5 393.3,312.4 393.8,312.3 394.3,312.1 394.8,312.0 395.3,311.9 395.8,311.7 396.3,311.6 396.8,311.4 397.3,311.2 397.8,311.0 398.3,310.8 398.8,310.6 399.3,310.3 399.8,310.0 400.3,309.7 400.8,309.4 401.3,309.1 401.8,308.7 402.3,308.3 402.8,308.0 403.3,307.6 403.8,307.2 404.3,306.8 404.8,306.3 405.3,305.9 405.8,305.4 406.3,304.9 406.8,304.4 407.3,303.9 407.8,303.4 408.3,302.8 408.8,302.2 409.3,301.5 409.8,300.9 410.3,300.1 410.8,299.4 411.3,298.5 411.8,297.6 412.3,296.6 412.8,295.5 413.3,294.3 413.8,293.0 414.3,291.5 414.8,289.9 415.3,288.2 415.8,286.4 416.3,284.5 416.8,282.6 417.3,280.7 417.8,278.8 418.3,276.8 418.8,274.9 419.3,272.9 419.8,271.0 420.3,269.1 420.8,267.3 421.3,265.6 421.8,264.1 422.3,262.6 422.8,261.3 423.3,260.0 423.8,258.7 424.3,257.5 424.8,256.2 425.3,255.0 425.8,253.6 426.3,252.2 426.8,250.7 427.3,249.0 427.8,247.3 428.3,245.3 428.8,243.2 429.3,240.9 429.8,238.4 430.3,235.7 430.8,232.9 431.3,229.9 431.8,226.7 432.3,223.4 432.8,220.0 433.3,216.8 433.8,213.5 434.3,210.4 434.8,207.3 435.3,204.3 435.8,201.3 436.3,197.9 436.8,194.7 437.3,191.5 437.8,188.4 438.3,185.4 438.8,182.4 439.3,179.5 439.8,176.7 440.3,173.8 440.8,171.0 441.3,168.1 441.8,165.1 442.3,162.0 442.8,158.8 443.3,155.6 443.8,152.4 444.3,149.2 444.8,146.1 445.3,143.2 445.8,140.4 446.3,137.7 446.8,135.2 447.3,132.8 447.8,130.5 448.3,128.3 448.8,126.1 449.3,123.9 449.3,130.5 448.8,132.7 448.3,134.9 447.8,137.1 447.3,139.4 446.8,141.8 446.3,144.3 445.8,147.0 445.3,149.8 444.8,152.7 444.3,155.8 443.8,159.0 443.3,162.2 442.8,165.4 442.3,168.6 441.8,171.7 441.3,174.7 440.8,177.6 440.3,180.4 439.8,183.3 439.3,186.1 438.8,189.0 438.3,192.0 437.8,195.0 437.3,198.1 436.8,201.3 436.3,204.5 435.8,207.9 435.3,210.9 434.8,213.9 434.3,217.0 433.8,220.1 433.3,223.4 432.8,226.6 432.3,230.0 431.8,233.3 431.3,236.5 430.8,239.5 430.3,242.3 429.8,245.0 429.3,247.5 428.8,249.8 428.3,251.9 427.8,253.9 427.3,255.6 426.8,257.3 426.3,258.8 425.8,260.2 425.3,261.6 424.8,262.8 424.3,264.1 423.8,265.3 423.3,266.6 422.8,267.9 422.3,269.2 421.8,270.7 421.3,272.2 420.8,273.9 420.3,275.7 419.8,277.6 419.3,279.5 418.8,281.5 418.3,283.4 417.8,285.4 417.3,287.3 416.8,289.2 416.3,291.1 415.8,293.0 415.3,294.8 414.8,296.5 414.3,298.1 413.8,299.6 413.3,300.9 412.8,302.1 412.3,303.2 411.8,304.2 411.3,305.1 410.8,306.0 410.3,306.7 409.8,307.5 409.3,308.1 408.8,308.8 408.3,309.4 407.8,310.0 407.3,310.5 406.8,311.0 406.3,311.5 405.8,312.0 405.3,312.5 404.8,312.9 404.3,313.4 403.8,313.8 403.3,314.2 402.8,314.6 402.3,314.9 401.8,315.3 401.3,315.7 400.8,316.0 400.3,316.3 399.8,316.6 399.3,316.9 398.8,317.2 398.3,317.4 397.8,317.6 397.3,317.8 396.8,318.0 396.3,318.2 395.8,318.3 395.3,318.5 394.8,318.6 394.3,318.7 393.8,318.9 393.3,319.0 392.8,319.1 392.3,319.2 391.8,319.2 391.3,319.3 390.8,319.4 390.3,319.4 389.8,319.4 389.3,319.4 388.8,319.4 388.3,319.4 387.8,319.4 387.3,319.3 386.8,319.2 386.3,319.3 385.8,319.3 385.3,319.4 384.8,319.4 384.3,319.4 383.8,319.4 383.3,319.4 382.8,319.4 382.3,319.3 381.8,319.3 381.3,319.2 380.8,319.1 380.3,319.0 379.8,318.9 379.3,318.8 378.8,318.7 378.3,318.5 377.8,318.4 377.3,318.2 376.8,318.1 376.3,317.9 375.8,317.7 375.3,317.5 374.8,317.3 374.3,317.0 373.8,316.7 373.3,316.4 372.8,316.1 372.3,315.8 371.8,315.4 371.3,315.1 370.8,314.7 370.3,314.3 369.8,313.9 369.3,313.5 368.8,313.1 368.3,312.7 367.8,312.2 367.3,311.7 366.8,311.3 366.3,310.7 365.8,310.2 365.3,309.6 364.8,309.0 364.3,308.4 363.8,307.7 363.3,307.0 362.8,306.3 362.3,305.5 361.8,304.6 361.3,303.6 360.8,302.6 360.3,301.4 359.8,300.1 359.3,298.7 358.8,297.1 358.3,295.5 357.8,293.7 357.3,291.9 356.8,290.0 356.3,288.1 355.8,286.1 355.3,284.2 354.8,282.2 354.3,280.3 353.8,278.4 353.3,276.4 352.8,274.5 352.3,272.6 351.8,270.8 351.3,268.9 350.8,267.1 350.3,265.3 349.8,263.4 349.3,261.5 348.8,259.5 348.3,257.4 347.8,255.0 347.3,252.5 346.8,249.8 346.3,246.9 345.8,243.9 345.3,240.8 344.8,237.6 344.3,234.4 343.8,231.2 343.3,228.0 342.8,224.8 342.3,221.7 341.8,218.6 341.3,215.5 340.8,212.6 340.3,209.7 339.8,206.8 339.3,204.0 338.8,201.3 338.3,198.6 337.8,196.0 337.3,193.5 336.8,191.0 336.3,188.5 335.8,186.1 335.3,183.8 334.8,181.4 334.3,179.1 333.8,176.7 333.3,174.3 332.8,171.7 332.3,169.1 331.8,166.4 331.3,163.6 330.8,160.8 330.3,157.9 329.8,155.1 329.3,152.3 328.8,149.7 328.3,147.1 327.8,144.7 327.3,142.4 326.8,140.2 326.3,138.1 325.8,136.0 325.3,134.1 324.8,132.1 324.3,130.3 323.8,128.4 323.3,126.6 322.8,124.9 322.3,123.1 321.8,121.4 321.3,119.6 320.8,117.9 320.3,116.3 319.8,114.6 319.3,113.0 318.8,111.4 318.3,109.9 317.8,108.4 317.3,106.9 316.8,105.4 316.3,104.0 315.8,102.7 315.3,101.4 314.8,100.1 314.3,98.8 313.8,97.6 313.3,96.5 312.8,95.3 312.3,94.3 311.8,93.2 311.3,92.2 310.8,91.2 310.3,90.3 309.8,89.4 309.3,88.5 308.8,87.7 308.3,86.9 307.8,86.1 307.3,85.3 306.8,84.5 306.3,83.8 305.8,83.1 305.3,82.4 304.8,81.7 304.3,81.1 303.8,80.4 303.3,79.8 302.8,79.2 302.3,78.5 301.8,78.0 301.3,77.4 300.8,76.8 300.3,76.3 299.8,75.7 299.3,75.2 298.8,74.7 298.3,74.2 297.8,73.7 297.3,73.2 296.8,72.7 296.3,72.2 295.8,71.7 295.3,71.2 294.8,70.7 294.3,70.3 293.8,69.8 293.3,69.4 292.8,69.0 292.3,68.6 291.8,68.2 291.3,67.8 290.8,67.4 290.3,67.1 289.8,66.7 289.3,66.4 288.8,66.1 288.3,65.8 287.8,65.4 287.3,65.1 286.8,64.9 286.3,64.6 285.8,64.3 285.3,64.0 284.8,63.7 284.3,63.5 283.8,63.2 283.3,62.9 282.8,62.7 282.3,62.5 281.8,62.2 281.3,62.0 280.8,61.8 280.3,61.7 279.8,61.5 279.3,61.3 278.8,61.2 278.3,61.0 277.8,60.9 277.3,60.8 276.8,60.7 276.3,60.5 275.8,60.4 275.3,60.3 274.8,60.2 274.3,60.1 273.8,60.0 273.3,59.9 272.8,59.8 272.3,59.8 271.8,59.7 271.3,59.6 270.8,59.5 270.3,59.5 269.8,59.4 269.3,59.4 268.8,59.4 268.3,59.4 267.8,59.3 267.3,59.3 266.8,59.3 266.3,59.3 265.8,59.3 265.3,59.3 264.8,59.3 264.3,59.3 263.8,59.3 263.3,59.3 262.8,59.4 262.3,59.4 261.8,59.4 261.3,59.4 260.8,59.5 260.3,59.5 259.8,59.6 259.3,59.6 258.8,59.7 258.3,59.7 257.8,59.8 257.3,59.8 256.8,59.9 256.3,60.0 255.8,60.0 255.3,60.1 254.8,60.2 254.3,60.3 253.8,60.3 253.3,60.4 252.8,60.5 252.3,60.6 251.8,60.7 251.3,60.8 250.8,60.9 250.3,61.0 249.8,61.1 249.3,61.3 248.8,61.4 248.3,61.6 247.8,61.8 247.3,62.0 246.8,62.2 246.3,62.4 245.8,62.6 245.3,62.8 244.8,63.1 244.3,63.3 243.8,63.6 243.3,63.9 242.8,64.2 242.3,64.4 241.8,64.7 241.3,65.0 240.8,65.3 240.3,65.6 239.8,65.9 239.3,66.3 238.8,66.6 238.3,66.9 237.8,67.3 237.3,67.7 236.8,68.0 236.3,68.4 235.8,68.8 235.3,69.2 234.8,69.7 234.3,70.1 233.8,70.6 233.3,71.0 232.8,71.5 232.3,72.0 231.8,72.5 231.3,73.0 230.8,73.5 230.3,74.0 229.8,74.6 229.3,75.1 228.8,75.7 228.3,76.3 227.8,76.9 227.3,77.5 226.8,78.1 226.3,78.8 225.8,79.5 225.3,80.2 224.8,81.0 224.3,81.7 223.8,82.5 223.3,83.3 222.8,84.2 222.3,85.0 221.8,85.9 221.3,86.9 220.8,87.8 220.3,88.8 219.8,89.9 219.3,91.0 218.8,92.1 218.3,93.3 217.8,94.6 217.3,95.8 216.8,97.2 216.3,98.6 215.8,100.0 215.3,101.5 214.8,103.0 214.3,104.6 213.8,106.2 213.3,107.9 212.8,109.6 212.3,111.3 211.8,113.1 211.3,114.9 210.8,116.7 210.3,118.5 209.8,120.3 209.3,122.1 208.8,124.0 208.3,125.8 207.8,127.7 207.3,129.5 206.8,131.4 206.3,133.3 205.8,135.2 205.3,137.3 204.8,139.3 204.3,141.5 203.8,143.8 203.3,146.1 202.8,148.6 202.3,151.3 201.8,154.0 201.3,156.8 200.8,159.6 200.3,162.5 199.8,165.3 199.3,168.1 198.8,170.7 198.3,173.3 197.8,175.7 197.3,178.1 196.8,180.5 196.3,182.8 195.8,185.2 195.3,187.6 194.8,190.0 194.3,192.5 193.8,195.0 193.3,197.6 192.8,200.2 192.3,202.9 191.8,205.7 191.3,208.5 190.8,211.4 190.3,214.3 189.8,217.4 189.3,220.4 188.8,223.5 188.3,226.7 187.8,229.9 187.3,233.1 186.8,236.3 186.3,239.5 185.8,242.7 185.3,245.7 184.8,248.7 184.3,251.5 183.8,254.1 183.3,256.4 182.8,258.7 182.3,260.7 181.8,262.6 181.3,264.5 180.8,266.4 180.3,268.2 179.8,270.0 179.3,271.9 178.8,273.8 178.3,275.7 177.8,277.6 177.3,279.5 176.8,281.5 176.3,283.4 175.8,285.4 175.3,287.3 174.8,289.2 174.3,291.1 173.8,293.0 173.3,294.8 172.8,296.5 172.3,298.1 171.8,299.6 171.3,300.9 170.8,302.1 170.3,303.2 169.8,304.2 169.3,305.1 168.8,306.0 168.3,306.7 167.8,307.5 167.3,308.1 166.8,308.8 166.3,309.4 165.8,310.0 165.3,310.5 164.8,311.0 164.3,311.5 163.8,312.0 163.3,312.5 162.8,312.9 162.3,313.4 161.8,313.8 161.3,314.2 160.8,314.6 160.3,314.9 159.8,315.3 159.3,315.7 158.8,316.0 158.3,316.3 157.8,316.6 157.3,316.9 156.8,317.2 156.3,317.4 155.8,317.6 155.3,317.8 154.8,318.0 154.3,318.2 153.8,318.3 153.3,318.5 152.8,318.6 152.3,318.7 151.8,318.9 151.3,319.0 150.8,319.1 150.3,319.2 149.8,319.2 149.3,319.3 148.8,319.4 148.3,319.4 147.8,319.4 147.3,319.4 146.8,319.4 146.3,319.4 145.8,319.4 145.3,319.3 144.8,319.2 144.3,319.3 143.8,319.3 143.3,319.4 142.8,319.4 142.3,319.4 141.8,319.4 141.3,319.4 140.8,319.4 140.3,319.3 139.8,319.3 139.3,319.2 138.8,319.1 138.3,319.0 137.8,318.9 137.3,318.8 136.8,318.7 136.3,318.5 135.8,318.4 135.3,318.2 134.8,318.1 134.3,317.9 133.8,317.7 133.3,317.5 132.8,317.3 132.3,317.0 131.8,316.7 131.3,316.4 130.8,316.1 130.3,315.8 129.8,315.4 129.3,315.1 128.8,314.7 128.3,314.3 127.8,313.9 127.3,313.5 126.8,313.1 126.3,312.7 125.8,312.2 125.3,311.7 124.8,311.3 124.3,310.7 123.8,310.2 123.3,309.6 122.8,309.0 122.3,308.4 121.8,307.7 121.3,307.0 120.8,306.3 120.3,305.5 119.8,304.6 119.3,303.6 118.8,302.6 118.3,301.4 117.8,300.1 117.3,298.7 116.8,297.1 116.3,295.5 115.8,293.7 115.3,291.9 114.8,290.0 114.3,288.1 113.8,286.1 113.3,284.2 112.8,282.2 112.3,280.3 111.8,278.4 111.3,276.4 110.8,274.5 110.3,272.6 109.8,270.8 109.3,268.9 108.8,267.1 108.3,265.3 107.8,263.4 107.3,261.5 106.8,259.5 106.3,257.4 105.8,255.0 105.3,252.5 104.8,249.8 104.3,246.9 103.8,243.9 103.3,240.8 102.8,237.6 102.3,234.4 101.8,231.2 101.3,228.0 100.8,224.8 100.3,221.7 99.8,218.6 99.3,215.5 98.8,212.6 98.3,209.7 97.8,206.8 97.3,204.0 96.8,201.3 96.3,198.6 95.8,196.0 95.3,193.5 94.8,191.0 94.3,188.5 93.8,186.1 93.3,183.8 92.8,181.4 92.3,179.1 91.8,176.7 91.3,174.3 90.8,171.7 90.3,169.1 89.8,166.4 89.3,163.6 88.8,160.8 88.3,157.9 87.8,155.1 87.3,152.3 86.8,149.7 86.3,147.1 85.8,144.7 85.3,142.4 84.8,140.2 84.3,138.1 83.8,136.0"/>
<polyline stroke="#000" stroke-width="1.05" stroke-linejoin="round" points="83.8,130.6 83.9,129.4 84.0,135.0 84.2,137.4 84.3,133.3 84.4,132.1 84.5,139.1 84.7,134.5 84.8,138.8 84.9,138.6 85.0,137.5 85.2,138.9 85.3,138.3 85.4,137.6 85.5,137.5 85.7,142.4 85.8,143.1 85.9,139.0 86.0,140.4 86.2,138.8 86.3,147.4 86.4,140.6 86.5,142.3 86.7,141.8 86.8,145.6 86.9,150.1 87.0,149.5 87.2,149.8 87.3,146.7 87.4,153.5 87.5,152.1 87.7,147.4 87.8,152.2 87.9,147.1 88.0,156.4 88.2,156.8 88.3,154.7 88.4,153.7 88.5,159.7 88.7,154.9 88.8,153.8 88.9,159.8 89.0,157.8 89.2,164.5 89.3,162.3 89.4,158.4 89.5,163.8 89.7,165.8 89.8,160.8 89.9,161.2 90.0,165.5 90.2,166.6 90.3,167.8 90.4,166.8 90.5,171.2 90.7,169.9 90.8,165.9 90.9,172.9 91.0,173.0 91.2,172.4 91.3,175.4 91.4,174.6 91.5,170.0 91.7,174.4 91.8,171.5 91.9,172.1 92.0,176.9 92.2,176.9 92.3,172.9 92.4,174.4 92.5,176.0 92.7,173.8 92.8,177.5 92.9,181.2 93.0,179.7 93.2,180.6 93.3,186.2 93.4,178.5 93.5,179.8 93.7,182.0 93.8,182.8 93.9,185.8 94.0,179.5 94.2,181.7 94.3,187.3 94.4,180.9 94.5,185.8 94.7,189.7 94.8,182.8 94.9,185.5 95.0,185.9 95.2,189.0 95.3,191.4 95.4,193.0 95.5,187.2 95.7,190.0 95.8,194.0 95.9,196.4 96.0,192.1 96.2,191.0 96.3,191.4 96.4,199.3 96.5,193.6 96.7,193.7 96.8,195.9 96.9,198.8 97.0,200.5 97.2,196.6 97.3,200.1 97.4,204.6 97.5,201.3 97.7,202.6 97.8,204.6 97.9,204.1 98.0,204.2 98.2,209.1 98.3,203.9 98.4,205.4 98.5,212.9 98.7,207.1 98.8,207.4 98.9,207.6 99.0,215.1 99.2,208.6 99.3,211.8 99.4,214.5 99.5,209.4 99.7,212.6 99.8,217.8 99.9,213.7 100.0,215.8 100.2,217.9 100.3,220.6 100.4,218.8 100.5,215.5 100.7,215.8 100.8,217.7 100.9,223.7 101.0,227.5 101.2,223.7 101.3,221.9 101.4,226.4 101.5,223.0 101.7,224.3 101.8,226.2 101.9,231.3 102.0,229.2 102.2,225.5 102.3,234.0 102.4,230.3 102.5,229.6 102.7,234.9 102.8,234.9 102.9,235.9 103.0,235.6 103.2,234.3 103.3,233.3 103.4,239.4 103.5,238.5 103.7,237.6 103.8,241.6 103.9,241.5 104.0,245.3 104.2,246.0 104.3,246.4 104.4,243.2 104.5,245.7 104.7,250.1 104.8,249.0 104.9,247.2 105.0,249.3 105.2,249.9 105.3,247.8 105.4,253.5 105.5,247.1 105.7,246.4 105.8,249.5 105.9,250.3 106.0,257.1 106.2,250.9 106.3,257.5 106.4,249.9 106.5,251.8 106.7,254.7 106.8,257.2 106.9,257.3 107.0,252.0 107.2,258.1 107.3,255.0 107.4,255.8 107.5,255.3 107.7,256.5 107.8,263.0 107.9,263.9 108.0,258.5 108.2,263.1 108.3,260.8 108.4,257.6 108.5,259.2 108.7,265.5 108.8,264.4 108.9,264.7 109.0,261.2 109.2,267.6 109.3,266.1 109.4,267.6 109.5,268.5 109.7,264.9 109.8,266.6 109.9,264.9 110.0,266.5 110.2,271.1 110.3,270.2 110.4,267.7 110.5,269.4 110.7,272.9 110.8,275.4 110.9,270.1 111.0,267.6 111.2,276.1 111.3,276.1 111.4,274.6 111.5,270.5 111.7,274.9 111.8,272.6 111.9,271.1 112.0,275.5 112.2,277.1 112.3,276.9 112.4,275.0 112.5,275.4 112.7,280.8 112.8,274.7 112.9,280.6 113.0,281.5 113.2,278.0 113.3,276.4 113.4,281.6 113.5,282.0 113.7,279.6 113.8,279.3 113.9,283.6 114.0,277.8 114.2,283.6 114.3,287.9 114.4,288.1 114.5,286.8 114.7,285.7 114.8,283.1 114.9,286.4 115.0,285.1 115.2,290.7 115.3,287.7 115.4,291.2 115.5,291.9 115.7,288.9 115.8,293.7 115.9,291.6 116.0,288.4 116.2,295.5 116.3,294.2 116.4,288.2 116.5,291.7 116.7,295.1 116.8,295.7 116.9,294.3 117.0,299.1 117.2,293.9 117.3,296.8 117.4,293.6 117.5,294.5 117.7,294.7 117.8,291.9 117.9,294.7 118.0,295.2 118.2,294.8 118.3,302.4 118.4,295.5 118.5,298.3 118.7,295.8 118.8,299.9 118.9,296.1 119.0,299.5 119.2,297.5 119.3,300.2 119.4,296.5 119.5,300.4 119.7,298.0 119.8,303.4 119.9,300.3 120.0,303.9 120.2,304.8 120.3,300.9 120.4,307.1 120.5,302.9 120.7,305.0 120.8,304.6 120.9,299.5 121.0,303.9 121.2,304.7 121.3,299.4 121.4,300.6 121.5,301.9 121.7,305.5 121.8,303.0 121.9,300.9 122.0,308.3 122.2,301.7 122.3,307.5 122.4,308.4 122.5,300.8 122.7,307.9 122.8,307.9 122.9,306.6 123.0,310.2 123.2,310.9 123.3,306.2 123.4,304.8 123.5,303.0 123.7,305.8 123.8,308.1 123.9,310.6 124.0,302.9 124.2,308.1 124.3,305.5 124.4,312.0 124.5,310.9 124.7,303.8 124.8,304.9 124.9,309.8 125.0,308.2 125.2,307.1 125.3,312.4 125.4,312.7 125.5,306.1 125.7,306.0 125.8,312.5 125.9,314.0 126.0,309.4 126.2,308.7 126.3,311.2 126.4,306.1 126.5,307.7 126.7,304.5 126.8,306.3 126.9,305.8 127.0,309.2 127.2,313.2 127.3,315.0 127.4,306.9 127.5,307.8 127.7,309.0 127.8,311.8 127.9,313.7 128.1,309.6 128.2,313.2 128.3,308.3 128.4,310.6 128.6,306.5 128.7,315.1 128.8,315.1 128.9,312.4 129.1,314.9 129.2,311.5 129.3,316.3 129.4,314.0 129.6,311.4 129.7,312.3 129.8,313.7 129.9,308.5 130.1,310.5 130.2,309.4 130.3,312.0 130.4,316.5 130.6,312.6 130.7,315.5 130.8,308.7 130.9,310.3 131.1,308.8 131.2,316.1 131.3,309.4 131.4,310.1 131.6,315.2 131.7,312.3 131.8,310.6 131.9,313.5 132.1,310.9 132.2,312.0 132.3,313.2 132.4,317.5 132.6,312.5 132.7,310.5 132.8,315.0 132.9,317.9 133.1,318.3 133.2,311.3 133.3,317.3 133.4,310.7 133.6,311.7 133.7,317.7 133.8,316.2 133.9,313.7 134.1,317.4 134.2,313.4 134.3,317.2 134.4,314.9 134.6,317.2 134.7,318.6 134.8,315.0 134.9,311.1 135.1,318.5 135.2,318.7 135.3,312.8 135.4,319.1 135.6,312.1 135.7,317.1 135.8,319.5 135.9,320.0 136.1,309.9 136.2,319.4 136.3,316.5 136.4,316.8 136.6,314.6 136.7,312.6 136.8,317.9 136.9,319.4 137.1,312.9 137.2,315.2 137.3,318.3 137.4,318.5 137.6,314.4 137.7,317.1 137.8,318.3 137.9,316.8 138.1,312.2 138.2,312.2 138.3,314.7 138.4,315.4 138.6,312.8 138.7,311.7 138.8,318.3 138.9,315.7 139.1,314.3 139.2,312.0 139.3,314.2 139.4,319.5 139.6,318.5 139.7,318.5 139.8,317.7 139.9,319.4 140.1,312.6 140.2,318.3 140.3,311.8 140.4,314.2 140.6,311.5 140.7,319.1 140.8,312.2 140.9,316.2 141.1,314.1 141.2,316.6 141.3,315.3 141.4,311.2 141.6,319.7 141.7,314.6 141.8,315.6 141.9,313.3 142.1,312.5 142.2,315.9 142.3,310.8 142.4,312.2 142.6,315.7 142.7,313.8 142.8,319.8 142.9,319.9 143.1,312.3 143.2,316.4 143.3,316.0 143.4,311.4 143.6,317.8 143.7,315.5 143.8,314.1 143.9,314.6 144.1,312.2 144.2,316.7 144.3,314.7 144.4,320.3 144.6,317.2 144.7,317.6 144.8,320.0 144.9,313.0 145.1,318.4 145.2,316.6 145.3,315.7 145.4,316.8 145.6,315.8 145.7,319.9 145.8,313.7 145.9,316.2 146.1,318.0 146.2,315.2 146.3,310.9 146.4,318.6 146.6,312.4 146.7,317.7 146.8,317.2 146.9,317.9 147.1,321.4 147.2,320.0 147.3,314.5 147.4,317.6 147.6,319.3 147.7,317.2 147.8,317.8 147.9,311.2 148.1,316.0 148.2,314.5 148.3,317.4 148.4,314.6 148.6,318.6 148.7,318.6 148.8,317.5 148.9,320.7 149.1,316.7 149.2,314.4 149.3,310.1 149.4,311.1 149.6,317.4 149.7,316.9 149.8,317.9 149.9,315.7 150.1,311.6 150.2,311.9 150.3,320.2 150.4,318.5 150.6,312.4 150.7,312.9 150.8,312.8 150.9,314.1 151.1,318.7 151.2,314.5 151.3,317.0 151.4,313.2 151.6,311.9 151.7,318.8 151.8,318.0 151.9,318.4 152.1,313.0 152.2,315.6 152.3,312.3 152.4,315.7 152.6,314.0 152.7,311.0 152.8,317.5 152.9,319.6 153.1,311.6 153.2,318.2 153.3,312.0 153.4,317.6 153.6,318.0 153.7,315.2 153.8,317.7 153.9,318.7 154.1,316.5 154.2,315.7 154.3,318.3 154.4,312.9 154.6,318.8 154.7,316.2 154.8,317.0 154.9,317.0 155.1,311.6 155.2,318.5 155.3,315.0 155.4,311.6 155.6,312.0 155.7,316.4 155.8,310.5 155.9,314.0 156.1,312.7 156.2,317.5 156.3,316.5 156.4,312.5 156.6,315.5 156.7,313.8 156.8,311.8 156.9,312.6 157.1,314.5 157.2,314.5 157.3,317.0 157.4,312.9 157.6,314.7 157.7,312.0 157.8,316.5 157.9,316.5 158.1,313.1 158.2,310.7 158.3,312.0 158.4,315.5 158.6,312.8 158.7,316.8 158.8,315.0 158.9,309.2 159.1,313.4 159.2,315.8 159.3,316.7 159.4,308.6 159.6,310.5 159.7,312.6 159.8,311.1 159.9,311.8 160.1,315.7 160.2,309.4 160.3,312.7 160.4,314.5 160.6,307.6 160.7,307.5 160.8,312.3 160.9,309.7 161.1,308.4 161.2,314.8 161.3,310.5 161.4,310.0 161.6,314.1 161.7,311.9 161.8,307.8 161.9,309.9 162.1,310.8 162.2,313.1 162.3,314.0 162.4,309.2 162.6,309.6 162.7,314.5 162.8,305.8 162.9,306.0 163.1,307.9 163.2,312.5 163.3,307.1 163.4,309.4 163.6,307.3 163.7,305.7 163.8,305.9 163.9,308.5 164.1,311.4 164.2,305.7 164.3,311.3 164.4,311.2 164.6,305.2 164.7,309.5 164.8,305.9 164.9,307.3 165.1,304.1 165.2,307.7 165.3,309.3 165.4,305.1 165.6,308.3 165.7,309.6 165.8,306.4 165.9,306.1 166.1,304.3 166.2,310.5 166.3,304.0 166.4,306.9 166.6,305.4 166.7,309.0 166.8,304.2 166.9,307.6 167.1,308.6 167.2,307.2 167.3,303.5 167.4,301.4 167.6,304.4 167.7,308.2 167.8,306.7 167.9,301.9 168.1,301.5 168.2,300.8 168.3,305.1 168.4,306.0 168.6,301.7 168.7,308.8 168.8,303.6 168.9,300.9 169.1,300.0 169.2,300.4 169.3,305.3 169.4,302.0 169.6,304.8 169.7,297.0 169.8,304.2 169.9,302.7 170.1,304.1 170.2,302.2 170.3,300.1 170.4,300.6 170.6,303.5 170.7,295.7 170.8,295.6 170.9,298.5 171.1,297.2 171.2,297.7 171.3,299.1 171.4,298.0 171.6,293.2 171.7,299.6 171.8,293.0 171.9,292.5 172.1,298.4 172.2,292.9 172.3,291.9 172.4,294.6 172.6,291.8 172.7,296.6 172.8,291.2 172.9,296.2 173.1,292.3 173.2,294.8 173.3,295.2 173.4,295.7 173.6,291.5 173.7,291.5 173.8,287.1 173.9,287.8 174.1,288.0 174.2,287.9 174.3,286.7 174.4,287.1 174.6,287.0 174.7,285.9 174.8,282.7 174.9,286.7 175.1,283.3 175.2,281.1 175.3,281.4 175.4,284.1 175.6,279.5 175.7,283.1 175.8,282.1 175.9,278.7 176.1,280.6 176.2,283.4 176.3,276.4 176.4,282.5 176.6,274.3 176.7,282.7 176.8,275.2 176.9,277.6 177.1,275.8 177.2,274.7 177.3,278.9 177.4,279.7 177.6,273.1 177.7,271.7 177.8,271.6 177.9,272.8 178.1,269.6 178.2,271.4 178.3,273.4 178.4,270.2 178.6,270.0 178.7,270.8 178.8,269.5 178.9,269.7 179.1,266.5 179.2,269.7 179.3,270.1 179.4,273.1 179.6,269.4 179.7,269.4 179.8,265.7 179.9,270.7 180.1,267.3 180.2,264.3 180.3,261.1 180.4,261.5 180.6,261.4 180.7,261.2 180.8,265.4 180.9,262.8 181.1,261.9 181.2,263.7 181.3,263.8 181.4,263.4 181.6,262.7 181.7,259.2 181.8,257.8 181.9,259.0 182.1,256.8 182.2,252.9 182.3,254.7 182.4,258.7 182.6,258.6 182.7,257.7 182.8,256.8 182.9,252.7 183.1,252.7 183.2,253.0 183.3,251.5 183.4,250.8 183.6,256.0 183.7,248.9 183.8,252.0 183.9,251.4 184.1,254.4 184.2,244.7 184.3,249.5 184.4,249.9 184.6,249.1 184.7,242.9 184.8,243.8 184.9,244.5 185.1,241.4 185.2,241.5 185.3,238.8 185.4,241.3 185.6,246.0 185.7,242.1 185.8,236.6 185.9,236.4 186.1,240.8 186.2,241.0 186.3,231.8 186.4,239.3 186.6,235.8 186.7,232.0 186.8,233.4 186.9,230.0 187.1,229.5 187.2,232.1 187.3,232.9 187.4,226.7 187.6,225.3 187.7,229.3 187.8,224.5 187.9,223.7 188.1,227.8 188.2,225.8 188.3,226.2 188.4,228.1 188.6,219.7 188.7,223.3 188.8,218.8 188.9,220.1 189.1,217.7 189.2,218.6 189.3,221.2 189.4,215.3 189.6,214.6 189.7,213.2 189.8,210.5 189.9,209.9 190.1,216.3 190.2,211.5 190.3,212.6 190.4,208.1 190.6,209.2 190.7,204.6 190.8,208.2 190.9,206.7 191.1,205.4 191.2,202.3 191.3,207.5 191.4,200.0 191.6,201.6 191.7,206.5 191.8,202.6 191.9,200.9 192.1,202.9 192.2,200.2 192.3,199.3 192.4,196.1 192.6,196.8 192.7,199.7 192.8,193.5 192.9,192.6 193.1,200.1 193.2,195.6 193.3,190.3 193.4,189.8 193.6,196.6 193.7,190.6 193.8,194.5 193.9,190.9 194.1,187.2 194.2,187.1 194.3,188.7 194.4,185.4 194.6,192.1 194.7,191.1 194.8,189.0 194.9,190.7 195.1,184.4 195.2,180.3 195.3,186.7 195.4,187.2 195.6,182.2 195.7,181.4 195.8,185.7 195.9,179.6 196.1,177.2 196.2,179.0 196.3,181.1 196.4,180.8 196.6,175.3 196.7,174.2 196.8,177.3 196.9,175.8 197.1,170.5 197.2,169.8 197.3,177.6 197.4,173.7 197.6,170.3 197.7,176.5 197.8,174.0 197.9,173.0 198.1,174.2 198.2,168.1 198.3,169.7 198.4,168.5 198.6,167.4 198.7,166.3 198.8,171.4 198.9,168.9 199.1,166.5 199.2,167.0 199.3,168.9 199.4,164.5 199.6,162.7 199.7,160.6 199.8,162.4 199.9,162.1 200.1,164.0 200.2,164.3 200.3,159.5 200.4,161.5 200.6,157.8 200.7,159.9 200.8,154.1 200.9,157.8 201.1,151.1 201.2,149.9 201.3,155.0 201.4,153.8 201.6,153.7 201.7,149.4 201.8,153.0 201.9,148.7 202.1,151.5 202.2,153.7 202.3,142.8 202.4,144.3 202.6,151.1 202.7,143.3 202.8,145.3 202.9,145.2 203.1,141.7 203.2,141.7 203.3,140.9 203.4,145.5 203.6,142.7 203.7,137.2 203.8,144.1 203.9,140.5 204.1,137.3 204.2,140.1 204.3,142.0 204.4,133.1 204.6,135.2 204.7,132.2 204.8,139.2 204.9,134.1 205.1,138.4 205.2,133.8 205.3,136.7 205.4,133.6 205.6,132.5 205.7,132.7 205.8,132.0 205.9,131.2 206.1,129.9 206.2,126.3 206.3,126.5 206.4,132.1 206.6,131.5 206.7,131.3 206.8,128.7 206.9,132.1 207.1,127.1 207.2,127.8 207.3,129.7 207.4,126.3 207.6,121.9 207.7,125.9 207.8,123.1 207.9,126.0 208.1,122.8 208.2,127.4 208.3,124.2 208.4,123.6 208.6,118.5 208.7,125.3 208.8,118.2 208.9,124.0 209.1,123.5 209.2,117.1 209.3,115.8 209.4,113.8 209.6,115.1 209.7,115.0 209.8,113.8 209.9,121.7 210.1,112.3 210.2,113.1 210.3,111.8 210.4,117.6 210.6,110.5 210.7,114.0 210.8,114.1 210.9,110.0 211.1,109.7 211.2,114.8 211.3,112.3 211.4,115.7 211.6,106.1 211.7,106.1 211.8,106.4 211.9,113.1 212.1,110.9 212.2,107.3 212.3,109.5 212.4,106.2 212.6,105.5 212.7,107.8 212.8,105.0 212.9,107.6 213.1,105.9 213.2,108.0 213.3,108.5 213.4,107.2 213.6,102.4 213.7,108.1 213.8,102.8 213.9,102.3 214.1,98.1 214.2,104.9 214.3,104.2 214.4,102.9 214.6,97.6 214.7,97.6 214.8,94.2 214.9,101.4 215.1,102.2 215.2,99.5 215.3,99.7 215.4,101.8 215.6,102.0 215.7,95.2 215.8,96.9 215.9,93.2 216.1,95.9 216.2,94.6 216.3,90.0 216.4,92.6 216.6,91.7 216.7,93.8 216.8,95.8 216.9,91.1 217.1,96.0 217.2,93.6 217.3,93.1 217.4,95.6 217.6,90.2 217.7,95.5 217.8,87.3 217.9,87.0 218.1,92.8 218.2,94.6 218.3,87.7 218.4,90.7 218.6,92.8 218.7,87.8 218.8,89.0 218.9,92.1 219.1,92.2 219.2,86.4 219.3,83.3 219.4,87.8 219.6,86.2 219.7,90.4 219.8,84.8 219.9,87.7 220.1,86.9 220.2,92.0 220.3,85.1 220.4,83.4 220.6,84.4 220.7,85.1 220.8,86.9 220.9,81.9 221.1,88.8 221.2,85.8 221.3,81.0 221.4,79.4 221.6,79.4 221.7,86.1 221.8,78.2 221.9,79.9 222.1,82.8 222.2,85.6 222.3,78.1 222.4,81.4 222.6,82.2 222.7,82.3 222.8,80.0 222.9,80.7 223.1,84.1 223.2,86.2 223.3,79.4 223.4,82.9 223.6,80.4 223.7,79.0 223.8,79.2 223.9,81.9 224.1,78.6 224.2,81.9 224.3,78.5 224.4,72.9 224.6,76.0 224.7,77.8 224.8,73.5 224.9,79.8 225.1,80.5 225.2,76.7 225.3,79.9 225.4,75.5 225.6,79.0 225.7,75.6 225.8,73.0 225.9,77.4 226.1,74.6 226.2,75.8 226.3,74.5 226.4,77.8 226.6,72.0 226.7,74.8 226.8,72.2 226.9,71.4 227.1,72.6 227.2,77.0 227.3,72.1 227.4,78.4 227.6,73.6 227.7,72.6 227.8,72.1 227.9,71.9 228.1,70.4 228.2,75.6 228.3,70.0 228.4,76.4 228.6,68.4 228.7,67.3 228.8,71.9 228.9,75.7 229.1,69.6 229.2,72.2 229.3,75.0 229.4,73.3 229.6,75.8 229.7,70.1 229.8,68.9 229.9,67.6 230.1,67.1 230.2,73.9 230.3,70.9 230.4,73.6 230.6,68.2 230.7,67.7 230.8,64.7 230.9,70.2 231.1,66.5 231.2,68.1 231.3,72.0 231.4,72.7 231.6,73.7 231.7,69.6 231.8,66.3 231.9,72.2 232.1,69.3 232.2,68.9 232.3,71.7 232.4,67.8 232.6,70.9 232.7,70.8 232.8,69.0 232.9,67.0 233.1,70.4 233.2,67.9 233.3,65.7 233.4,68.3 233.6,69.4 233.7,69.5 233.8,67.8 233.9,64.1 234.1,65.6 234.2,71.1 234.3,68.0 234.4,66.4 234.6,65.1 234.7,68.4 234.8,69.2 234.9,69.8 235.1,63.8 235.2,63.7 235.3,66.5 235.4,66.3 235.6,61.7 235.7,60.6 235.8,69.3 235.9,67.6 236.1,63.7 236.2,60.8 236.3,64.4 236.4,64.9 236.6,66.9 236.7,62.9 236.8,63.8 236.9,65.7 237.1,67.1 237.2,60.6 237.3,63.9 237.4,67.2 237.6,65.7 237.7,61.0 237.8,63.2 237.9,64.9 238.1,60.0 238.2,68.6 238.3,66.0 238.4,61.7 238.6,60.7 238.7,66.2 238.8,60.6 238.9,64.7 239.1,65.3 239.2,59.4 239.3,66.2 239.4,59.3 239.6,67.0 239.7,62.2 239.8,64.3 239.9,67.5 240.1,65.9 240.2,59.5 240.3,60.5 240.4,65.5 240.6,59.8 240.7,61.8 240.8,64.9 240.9,66.1 241.1,61.8 241.2,66.0 241.3,66.5 241.4,58.5 241.6,65.3 241.7,61.8 241.8,58.1 241.9,60.1 242.1,60.5 242.2,64.4 242.3,64.5 242.4,59.1 242.6,59.6 242.7,55.9 242.8,57.4 242.9,59.8 243.1,58.0 243.2,65.3 243.3,65.7 243.4,57.9 243.6,57.5 243.7,58.1 243.8,60.6 243.9,58.4 244.1,62.4 244.2,57.7 244.3,59.1 244.4,58.2 244.6,63.2 244.7,58.6 244.8,56.5 244.9,61.2 245.1,59.9 245.2,57.2 245.3,63.5 245.4,54.4 245.6,62.0 245.7,59.7 245.8,54.6 245.9,57.0 246.1,61.3 246.2,62.7 246.3,59.3 246.4,62.1 246.6,61.1 246.7,57.0 246.8,55.0 246.9,59.3 247.1,57.3 247.2,58.7 247.3,54.7 247.4,59.9 247.6,62.8 247.7,59.6 247.8,54.8 247.9,59.2 248.1,60.8 248.2,62.8 248.3,56.5 248.4,58.5 248.6,58.8 248.7,55.8 248.8,54.7 248.9,61.5 249.1,56.7 249.2,57.5 249.3,58.1 249.4,52.8 249.6,61.9 249.7,55.5 249.8,60.8 249.9,62.0 250.1,53.9 250.2,59.0 250.3,57.2 250.4,56.4 250.6,55.9 250.7,59.6 250.8,59.6 250.9,61.1 251.1,54.8 251.2,59.5 251.3,56.7 251.4,55.0 251.6,55.9 251.7,53.9 251.8,57.8 251.9,54.8 252.1,56.8 252.2,56.8 252.3,54.2 252.4,53.7 252.6,59.3 252.7,61.7 252.8,58.3 252.9,57.6 253.1,55.5 253.2,56.9 253.3,55.2 253.4,54.4 253.6,56.2 253.7,55.9 253.8,61.8 253.9,60.4 254.1,58.0 254.2,53.2 254.3,55.3 254.4,60.1 254.6,58.1 254.7,61.1 254.8,54.5 254.9,58.3 255.1,54.0 255.2,59.5 255.3,60.4 255.4,58.2 255.6,56.8 255.7,60.1 255.8,55.7 255.9,60.1 256.1,51.7 256.2,55.6 256.3,58.7 256.4,58.9 256.6,55.4 256.7,59.7 256.8,56.5 256.9,55.5 257.1,55.0 257.2,56.9 257.3,59.7 257.4,59.6 257.6,53.9 257.7,53.5 257.8,59.3 257.9,55.0 258.1,60.0 258.2,54.7 258.3,53.5 258.4,61.3 258.6,57.2 258.7,58.3 258.8,60.0 258.9,53.1 259.1,55.2 259.2,54.6 259.3,55.7 259.4,52.3 259.6,53.0 259.7,54.6 259.8,54.5 259.9,55.2 260.1,58.5 260.2,59.4 260.3,52.3 260.4,54.2 260.6,54.8 260.7,60.8 260.8,55.2 260.9,56.6 261.1,53.8 261.2,53.0 261.3,55.9 261.4,55.5 261.6,59.9 261.7,57.9 261.8,56.1 261.9,51.3 262.1,60.8 262.2,53.4 262.3,55.1 262.4,56.1 262.6,57.3 262.7,56.4 262.8,61.3 262.9,53.4 263.1,59.9 263.2,54.8 263.3,59.4 263.4,59.9 263.6,57.5 263.7,53.4 263.8,58.5 263.9,52.5 264.1,54.8 264.2,51.3 264.3,54.9 264.4,58.1 264.6,59.4 264.7,57.0 264.8,52.3 264.9,56.3 265.1,56.8 265.2,61.0 265.3,55.2 265.4,56.4 265.6,54.8 265.7,58.7 265.8,59.6 265.9,60.7 266.1,60.5 266.2,51.9 266.3,57.8 266.4,55.5 266.6,60.6 266.7,55.3 266.8,53.3 266.9,55.9 267.1,51.6 267.2,53.9 267.3,59.1 267.4,59.4 267.6,58.7 267.7,55.1 267.8,52.4 267.9,54.7 268.1,53.1 268.2,55.9 268.3,57.2 268.4,56.8 268.6,56.5 268.7,57.1 268.8,56.4 268.9,52.6 269.1,52.2 269.2,55.0 269.3,56.3 269.4,51.5 269.6,59.1 269.7,59.4 269.8,58.7 269.9,57.8 270.1,56.1 270.2,53.7 270.3,58.9 270.4,60.2 270.6,55.6 270.7,57.3 270.8,57.1 270.9,58.9 271.1,57.9 271.2,60.1 271.3,56.5 271.4,59.9 271.6,60.1 271.7,54.6 271.8,53.0 271.9,56.6 272.1,55.4 272.2,58.4 272.3,52.8 272.4,53.7 272.6,53.8 272.7,52.4 272.8,52.3 272.9,50.3 273.1,53.5 273.2,52.7 273.3,56.3 273.4,57.4 273.6,54.4 273.7,56.3 273.8,52.2 273.9,60.3 274.1,56.0 274.2,58.4 274.3,54.6 274.4,60.7 274.6,56.1 274.7,53.0 274.8,54.9 274.9,53.7 275.1,62.5 275.2,61.0 275.3,55.8 275.4,51.9 275.6,58.7 275.7,60.6 275.8,62.2 275.9,60.1 276.1,58.5 276.2,53.6 276.3,56.6 276.4,54.0 276.6,59.7 276.7,59.0 276.8,57.2 276.9,59.5 277.1,57.9 277.2,55.4 277.3,56.3 277.4,59.3 277.6,57.7 277.7,60.1 277.8,62.8 277.9,62.7 278.1,56.4 278.2,58.3 278.3,58.3 278.4,59.4 278.6,60.8 278.7,58.5 278.8,59.5 278.9,62.8 279.1,58.0 279.2,60.8 279.3,57.3 279.4,57.7 279.6,56.9 279.7,55.4 279.8,56.7 279.9,62.4 280.1,56.4 280.2,54.3 280.3,60.9 280.4,59.4 280.6,58.5 280.7,56.8 280.8,54.7 280.9,55.3 281.1,54.6 281.2,57.4 281.3,59.3 281.4,58.2 281.6,59.3 281.7,61.9 281.8,59.2 281.9,57.6 282.1,63.0 282.2,57.0 282.3,60.3 282.4,56.3 282.6,60.0 282.7,64.4 282.8,56.3 282.9,62.1 283.1,56.1 283.2,61.4 283.3,57.4 283.4,60.4 283.6,59.0 283.7,64.4 283.8,60.1 283.9,59.8 284.1,60.0 284.2,58.5 284.3,58.5 284.4,59.4 284.6,63.9 284.7,59.8 284.8,59.7 284.9,63.4 285.1,63.6 285.2,56.8 285.3,63.9 285.4,64.6 285.6,58.6 285.7,59.2 285.8,66.4 285.9,58.4 286.1,56.5 286.2,57.1 286.3,60.4 286.4,57.8 286.6,60.6 286.7,62.3 286.8,66.0 286.9,65.1 287.1,65.8 287.2,66.2 287.3,61.5 287.4,63.8 287.6,64.1 287.7,57.6 287.8,58.8 287.9,61.7 288.1,59.5 288.2,59.8 288.3,61.1 288.4,59.0 288.6,60.6 288.7,61.0 288.8,63.1 288.9,60.8 289.1,59.4 289.2,66.4 289.3,62.5 289.4,66.9 289.6,64.5 289.7,60.6 289.8,60.1 289.9,68.6 290.1,60.9 290.2,57.8 290.3,65.4 290.4,59.0 290.6,60.3 290.7,65.5 290.8,63.2 290.9,66.2 291.1,64.8 291.2,61.0 291.3,68.0 291.4,62.7 291.6,65.4 291.7,65.2 291.8,63.9 291.9,68.7 292.1,61.6 292.2,64.7 292.3,68.1 292.4,62.9 292.6,65.7 292.7,68.8 292.8,64.3 292.9,63.8 293.1,65.4 293.2,67.6 293.3,66.8 293.4,66.1 293.6,69.6 293.7,68.7 293.8,63.2 293.9,71.0 294.1,68.6 294.2,70.7 294.3,67.6 294.4,71.5 294.6,64.6 294.7,67.3 294.8,67.9 294.9,65.9 295.1,68.5 295.2,72.6 295.3,70.2 295.4,65.3 295.6,69.8 295.7,64.3 295.8,64.8 295.9,67.4 296.1,69.3 296.2,65.3 296.3,68.2 296.4,69.3 296.6,72.1 296.7,67.7 296.8,73.6 296.9,67.9 297.1,73.1 297.2,71.1 297.3,71.9 297.4,67.8 297.6,67.0 297.7,69.7 297.8,69.1 297.9,70.2 298.1,65.7 298.2,71.4 298.3,73.8 298.4,73.9 298.6,72.3 298.7,71.6 298.8,75.5 298.9,75.7 299.1,70.1 299.2,71.4 299.3,73.4 299.4,74.0 299.6,70.7 299.7,74.0 299.8,72.4 299.9,73.7 300.1,69.6 300.2,74.6 300.3,71.1 300.4,73.9 300.6,71.7 300.7,70.2 300.8,76.8 300.9,73.9 301.1,70.9 301.2,73.5 301.3,70.8 301.4,78.8 301.6,76.1 301.7,70.6 301.8,78.6 301.9,76.5 302.1,72.6 302.2,76.3 302.3,72.7 302.4,78.2 302.6,76.6 302.7,78.5 302.8,72.7 302.9,73.1 303.1,77.1 303.2,79.9 303.3,72.0 303.4,81.0 303.6,73.7 303.7,75.1 303.8,76.6 303.9,76.2 304.1,77.3 304.2,74.2 304.3,80.4 304.4,81.2 304.6,81.4 304.7,82.7 304.8,78.3 304.9,78.5 305.1,78.3 305.2,80.4 305.3,75.6 305.4,82.4 305.6,82.4 305.7,79.7 305.8,79.5 305.9,78.6 306.1,82.4 306.2,84.2 306.3,78.4 306.4,83.6 306.6,83.9 306.7,80.2 306.8,80.0 306.9,76.7 307.1,79.1 307.2,83.6 307.3,82.4 307.4,84.9 307.6,83.2 307.7,81.6 307.8,82.5 307.9,80.8 308.1,82.8 308.2,80.3 308.3,84.7 308.4,80.1 308.6,86.5 308.7,81.2 308.8,88.2 308.9,85.7 309.1,84.2 309.2,88.4 309.3,82.7 309.4,86.0 309.6,83.5 309.7,86.5 309.8,85.5 309.9,91.2 310.1,87.2 310.2,82.2 310.3,83.7 310.4,88.9 310.6,90.2 310.7,89.9 310.8,93.0 310.9,91.9 311.1,90.9 311.2,89.1 311.3,88.3 311.4,85.7 311.6,90.3 311.7,92.1 311.8,93.8 311.9,92.2 312.1,90.2 312.2,88.2 312.3,90.9 312.4,95.6 312.6,93.1 312.7,92.9 312.8,95.7 312.9,90.1 313.1,90.0 313.2,94.1 313.3,89.5 313.4,93.2 313.6,96.1 313.7,97.4 313.8,91.7 313.9,90.0 314.1,98.9 314.2,94.0 314.3,94.6 314.4,96.4 314.6,97.7 314.7,95.5 314.8,96.8 314.9,99.7 315.1,96.1 315.2,97.9 315.3,96.8 315.4,101.7 315.6,93.9 315.7,101.3 315.8,99.7 315.9,100.1 316.1,97.3 316.2,105.7 316.3,99.7 316.4,104.2 316.6,97.9 316.7,101.1 316.8,107.1 316.9,97.9 317.1,102.1 317.2,100.1 317.3,100.5 317.4,104.3 317.6,108.7 317.7,103.8 317.8,107.7 317.9,107.8 318.1,111.7 318.2,103.9 318.3,108.9 318.4,109.2 318.6,111.7 318.7,103.0 318.8,104.2 318.9,103.8 319.1,105.7 319.2,107.0 319.3,110.9 319.4,108.0 319.6,107.5 319.7,113.7 319.8,108.5 319.9,117.2 320.1,109.8 320.2,107.4 320.3,110.1 320.4,109.3 320.6,110.2 320.7,116.1 320.8,113.8 320.9,110.8 321.1,114.6 321.2,114.9 321.3,112.7 321.4,118.0 321.6,114.1 321.7,116.9 321.8,114.1 321.9,118.5 322.1,122.2 322.2,118.9 322.3,117.6 322.4,120.0 322.6,125.4 322.7,123.4 322.8,121.8 322.9,122.2 323.1,120.7 323.2,121.4 323.3,126.3 323.4,127.3 323.6,124.2 323.7,126.8 323.8,127.5 323.9,126.4 324.1,129.9 324.2,127.2 324.3,127.6 324.4,129.3 324.6,128.5 324.7,131.6 324.8,131.2 324.9,129.1 325.1,130.5 325.2,134.1 325.3,129.7 325.4,129.2 325.6,135.1 325.7,128.1 325.8,133.3 325.9,130.0 326.1,134.9 326.2,138.4 326.3,138.7 326.4,134.4 326.6,139.8 326.7,137.4 326.8,134.7 326.9,134.6 327.1,139.5 327.2,137.7 327.3,143.0 327.4,143.3 327.6,140.9 327.7,141.8 327.8,140.1 327.9,140.6 328.1,145.9 328.2,143.3 328.3,141.7 328.4,142.8 328.6,143.8 328.7,146.3 328.8,145.9 328.9,146.0 329.1,151.6 329.2,151.4 329.3,148.9 329.4,145.7 329.6,153.5 329.7,152.0 329.8,149.5 329.9,156.3 330.1,153.5 330.2,153.3 330.3,158.2 330.4,153.2 330.6,157.1 330.7,158.6 330.8,155.0 330.9,156.7 331.1,156.2 331.2,156.7 331.3,157.8 331.4,159.3 331.6,159.9 331.7,162.1 331.8,162.0 331.9,167.9 332.1,165.3 332.2,163.2 332.3,165.8 332.4,164.4 332.6,167.5 332.7,166.1 332.8,171.9 332.9,166.4 333.1,167.3 333.2,172.8 333.3,168.0 333.4,169.2 333.6,172.0 333.7,177.0 333.8,172.3 333.9,174.6 334.1,170.5 334.2,177.5 334.3,180.3 334.4,173.2 334.6,175.0 334.7,175.5 334.8,181.7 334.9,183.9 335.1,182.4 335.2,178.1 335.3,179.3 335.4,183.3 335.6,178.5 335.7,187.0 335.8,182.9 335.9,181.4 336.1,180.3 336.2,187.8 336.3,181.3 336.4,190.2 336.6,183.2 336.7,189.8 336.8,186.3 336.9,194.0 337.1,194.1 337.2,193.1 337.3,189.3 337.4,187.4 337.6,196.4 337.7,193.7 337.8,190.6 337.9,193.3 338.1,197.6 338.2,189.8 338.3,196.7 338.4,191.0 338.6,196.0 338.7,198.6 338.8,196.6 338.9,200.9 339.1,198.7 339.2,198.5 339.3,199.3 339.4,201.6 339.6,201.5 339.7,199.5 339.8,200.6 339.9,205.0 340.1,202.1 340.2,201.6 340.3,210.7 340.4,202.9 340.6,204.0 340.7,208.1 340.8,207.9 340.9,211.2 341.1,211.4 341.2,213.0 341.3,215.4 341.4,211.2 341.6,215.7 341.7,213.3 341.8,218.3 341.9,217.5 342.1,213.0 342.2,214.8 342.3,218.0 342.4,214.1 342.6,219.8 342.7,216.8 342.8,221.4 342.9,225.8 343.1,227.0 343.2,225.5 343.3,220.3 343.4,224.8 343.6,223.4 343.7,225.5 343.8,230.5 343.9,227.4 344.1,227.2 344.2,232.9 344.3,228.4 344.4,233.2 344.6,230.8 344.7,235.4 344.8,233.7 344.9,239.4 345.1,232.3 345.2,241.7 345.3,234.2 345.4,234.2 345.6,242.6 345.7,239.1 345.8,241.3 345.9,237.6 346.1,247.1 346.2,242.6 346.3,246.4 346.4,246.8 346.6,240.6 346.7,247.1 346.8,243.7 346.9,249.0 347.1,247.4 347.2,245.5 347.3,247.6 347.4,246.3 347.6,250.3 347.7,252.9 347.8,247.5 347.9,248.7 348.1,254.7 348.2,248.6 348.3,253.0 348.4,252.9 348.6,256.2 348.7,259.6 348.8,255.4 348.9,257.3 349.1,261.1 349.2,259.8 349.3,256.9 349.4,260.7 349.6,258.0 349.7,256.8 349.8,257.4 349.9,258.2 350.1,261.8 350.2,260.3 350.3,264.2 350.4,260.8 350.6,268.1 350.7,267.7 350.8,265.7 350.9,269.4 351.1,260.4 351.2,262.5 351.3,265.1 351.4,267.1 351.6,263.1 351.7,268.4 351.8,268.2 351.9,264.7 352.1,264.1 352.2,268.7 352.3,272.5 352.4,266.0 352.6,272.2 352.7,272.2 352.8,275.8 352.9,273.2 353.1,268.1 353.2,276.4 353.3,272.4 353.4,275.7 353.6,272.5 353.7,271.4 353.8,279.3 353.9,274.7 354.1,274.9 354.2,281.1 354.3,279.2 354.4,280.1 354.6,281.8 354.7,280.3 354.8,279.3 354.9,276.3 355.1,277.3 355.2,285.6 355.3,284.6 355.4,280.4 355.6,277.4 355.7,278.2 355.8,280.5 355.9,279.4 356.1,281.2 356.2,279.3 356.3,288.2 356.4,287.8 356.6,286.3 356.7,285.2 356.8,286.7 356.9,283.3 357.1,291.1 357.2,286.1 357.3,291.9 357.4,288.2 357.6,287.8 357.7,290.1 357.8,292.4 357.9,292.0 358.1,288.2 358.2,294.8 358.3,294.1 358.4,289.5 358.6,296.0 358.7,290.2 358.8,291.9 358.9,294.4 359.1,290.5 359.2,292.7 359.3,298.9 359.4,297.5 359.6,294.9 359.7,293.4 359.8,299.5 359.9,296.5 360.1,294.4 360.2,302.1 360.3,293.5 360.4,300.0 360.6,299.9 360.7,294.4 360.8,297.8 360.9,302.3 361.1,302.0 361.2,296.6 361.3,299.0 361.4,299.8 361.6,297.3 361.7,298.3 361.8,302.0 361.9,297.8 362.1,303.5 362.2,301.6 362.3,305.8 362.4,304.4 362.6,302.1 362.7,298.0 362.8,299.7 362.9,301.3 363.1,304.8 363.2,303.8 363.3,301.4 363.4,298.9 363.6,305.8 363.7,308.6 363.8,308.0 363.9,307.1 364.1,302.0 364.2,301.6 364.3,308.4 364.4,306.7 364.6,304.1 364.7,304.2 364.8,310.6 364.9,301.6 365.1,307.2 365.2,308.7 365.3,305.3 365.4,310.8 365.6,302.9 365.7,304.5 365.8,303.5 365.9,305.0 366.1,306.9 366.2,307.1 366.3,310.9 366.4,306.2 366.6,304.8 366.7,306.6 366.8,308.6 366.9,304.1 367.1,309.4 367.2,311.7 367.3,307.0 367.4,308.8 367.6,313.9 367.7,311.3 367.8,308.9 367.9,305.9 368.1,306.5 368.2,307.3 368.3,309.5 368.4,306.7 368.6,306.3 368.7,313.2 368.8,313.3 368.9,311.7 369.1,311.3 369.2,312.3 369.3,314.5 369.4,308.2 369.6,308.1 369.7,314.7 369.8,310.1 369.9,308.2 370.1,312.1 370.2,311.7 370.3,307.0 370.4,310.5 370.6,312.4 370.7,308.5 370.8,315.2 370.9,308.2 371.1,313.8 371.2,308.4 371.3,316.3 371.4,308.6 371.6,308.9 371.7,308.7 371.8,315.7 371.9,310.5 372.1,309.8 372.2,310.5 372.3,312.4 372.4,315.9 372.6,313.7 372.7,312.0 372.8,308.0 372.9,309.3 373.1,311.7 373.2,311.9 373.3,313.6 373.4,314.5 373.6,309.9 373.7,312.6 373.8,316.5 373.9,310.0 374.1,313.6 374.2,311.2 374.3,317.4 374.4,314.5 374.6,316.2 374.7,315.6 374.8,317.7 374.9,311.6 375.1,316.8 375.2,316.6 375.3,309.5 375.4,313.2 375.6,314.9 375.7,315.8 375.8,317.9 375.9,312.1 376.1,316.7 376.2,315.5 376.3,313.1 376.4,316.3 376.6,312.6 376.7,316.3 376.8,314.8 376.9,314.5 377.1,313.0 377.2,315.5 377.3,319.2 377.4,311.6 377.6,319.5 377.7,312.6 377.8,318.5 377.9,315.0 378.1,314.4 378.2,318.0 378.3,310.9 378.4,312.1 378.6,319.0 378.7,313.4 378.8,315.1 378.9,318.0 379.1,316.0 379.2,316.0 379.3,319.2 379.4,312.9 379.6,314.3 379.7,312.6 379.8,319.3 379.9,319.1 380.1,318.9 380.2,313.0 380.3,317.7 380.4,316.2 380.6,315.7 380.7,315.3 380.8,310.6 380.9,313.3 381.1,311.6 381.2,317.0 381.3,320.8 381.4,312.5 381.6,318.4 381.7,314.2 381.8,311.5 381.9,314.9 382.1,318.9 382.2,311.4 382.3,314.3 382.4,320.1 382.6,312.6 382.7,319.3 382.8,318.7 382.9,317.3 383.1,315.0 383.2,317.3 383.3,317.3 383.4,313.1 383.6,312.7 383.7,315.4 383.8,315.7 383.9,319.7 384.1,318.6 384.2,317.5 384.3,319.7 384.4,313.6 384.6,320.1 384.7,317.9 384.8,314.7 384.9,318.2 385.1,314.9 385.2,313.9 385.3,319.1 385.4,317.4 385.6,316.3 385.7,320.1 385.8,319.0 385.9,312.1 386.1,313.3 386.2,321.7 386.3,313.5 386.4,314.9 386.6,316.2 386.7,314.4 386.8,321.0 386.9,314.8 387.1,316.7 387.2,318.9 387.3,315.7 387.4,319.2 387.6,320.4 387.7,318.6 387.8,317.9 387.9,317.6 388.1,312.1 388.2,319.2 388.3,318.3 388.4,311.3 388.6,315.5 388.7,317.8 388.8,313.9 388.9,313.8 389.1,317.0 389.2,320.2 389.3,317.5 389.4,318.2 389.6,314.3 389.7,318.8 389.8,319.2 389.9,316.7 390.1,315.6 390.2,313.0 390.3,317.9 390.4,315.2 390.6,319.3 390.7,312.2 390.8,314.8 390.9,318.9 391.1,311.8 391.2,310.9 391.3,313.5 391.4,318.9 391.6,314.8 391.7,316.8 391.8,317.5 391.9,312.1 392.1,311.6 392.2,315.3 392.3,313.1 392.4,317.6 392.6,313.4 392.7,317.3 392.8,317.2 392.9,317.8 393.1,319.2 393.2,316.8 393.3,313.4 393.4,312.3 393.6,313.2 393.7,316.2 393.8,320.1 393.9,311.1 394.1,311.4 394.2,312.9 394.3,312.5 394.4,313.6 394.6,314.5 394.7,313.8 394.8,319.1 394.9,311.2 395.1,317.1 395.2,317.1 395.3,312.4 395.4,318.1 395.6,319.7 395.7,309.3 395.8,320.0 395.9,312.2 396.1,310.8 396.2,314.5 396.3,311.6 396.4,313.7 396.6,314.9 396.7,318.2 396.8,311.8 396.9,317.9 397.1,319.5 397.2,312.9 397.3,316.4 397.4,310.9 397.6,312.8 397.7,316.7 397.8,310.1 397.9,316.8 398.1,318.2 398.2,316.9 398.3,315.8 398.4,309.8 398.6,309.5 398.7,314.1 398.8,314.1 398.9,315.8 399.1,313.3 399.2,310.1 399.3,312.3 399.4,316.7 399.6,313.9 399.7,310.9 399.8,313.7 399.9,314.4 400.1,313.4 400.2,315.8 400.3,316.8 400.4,310.4 400.6,316.7 400.7,313.7 400.8,315.9 400.9,311.2 401.1,316.7 401.2,314.7 401.3,312.9 401.4,308.1 401.6,314.4 401.7,315.9 401.8,314.7 401.9,311.7 402.1,308.2 402.2,308.0 402.3,311.6 402.4,308.5 402.6,312.1 402.7,316.5 402.8,311.2 402.9,308.8 403.1,309.2 403.2,314.5 403.3,306.8 403.4,307.0 403.6,312.2 403.7,304.9 403.8,307.3 403.9,313.0 404.1,312.7 404.2,306.5 404.3,312.9 404.4,314.1 404.6,306.1 404.7,310.2 404.8,308.6 404.9,308.5 405.1,311.1 405.2,310.9 405.3,306.0 405.4,308.8 405.6,311.1 405.7,311.9 405.8,309.2 405.9,310.1 406.1,309.4 406.2,311.7 406.3,308.9 406.4,303.4 406.6,309.9 406.7,306.5 406.8,310.7 406.9,304.2 407.1,310.5 407.2,307.6 407.3,310.4 407.4,304.5 407.6,309.4 407.7,303.2 407.8,308.2 407.9,305.2 408.1,304.7 408.2,306.8 408.3,305.5 408.4,303.7 408.6,308.6 408.7,305.7 408.8,303.1 408.9,302.5 409.1,309.5 409.2,307.2 409.3,301.5 409.4,308.8 409.6,310.2 409.7,304.9 409.8,304.7 409.9,305.5 410.1,305.3 410.2,303.3 410.3,301.7 410.4,304.9 410.6,306.9 410.7,306.3 410.8,300.5 410.9,299.5 411.1,306.6 411.2,304.2 411.3,298.6 411.4,299.2 411.6,303.9 411.7,296.8 411.8,298.8 411.9,296.7 412.1,305.4 412.2,296.1 412.3,303.8 412.4,300.0 412.6,298.9 412.7,297.2 412.8,302.0 412.9,297.7 413.1,297.3 413.2,298.6 413.3,298.1 413.4,296.6 413.6,299.6 413.7,300.0 413.8,294.8 413.9,297.2 414.1,295.6 414.2,298.2 414.3,294.0 414.4,293.9 414.6,295.4 414.7,292.5 414.8,296.4 414.9,293.3 415.1,290.6 415.2,294.8 415.3,291.8 415.4,295.9 415.6,285.9 415.7,287.6 415.8,290.2 415.9,285.7 416.1,291.1 416.2,288.1 416.3,293.7 416.4,287.6 416.6,284.7 416.7,285.2 416.8,287.0 416.9,283.8 417.1,283.2 417.2,286.9 417.3,283.9 417.4,283.6 417.6,281.9 417.7,279.5 417.8,283.6 417.9,278.9 418.1,283.7 418.2,282.7 418.3,276.0 418.4,282.0 418.6,277.9 418.7,280.7 418.8,275.9 418.9,280.5 419.1,272.5 419.2,278.7 419.3,272.7 419.4,277.7 419.6,273.6 419.7,277.9 419.8,276.4 419.9,271.3 420.1,272.8 420.2,277.7 420.3,272.7 420.4,267.3 420.6,273.5 420.7,273.9 420.8,272.9 420.9,267.5 421.1,269.4 421.2,268.7 421.3,271.4 421.4,267.1 421.6,272.2 421.7,264.1 421.8,268.6 421.9,266.8 422.1,270.1 422.2,267.6 422.3,265.3 422.4,264.6 422.6,263.8 422.7,266.4 422.8,263.6 422.9,265.9 423.1,259.9 423.2,265.4 423.3,267.2 423.4,265.2 423.6,260.1 423.7,264.2 423.8,263.5 423.9,258.8 424.1,266.1 424.2,262.5 424.3,262.6 424.4,257.4 424.6,256.0 424.7,259.4 424.8,263.3 424.9,259.6 425.1,260.4 425.2,254.6 425.3,263.1 425.4,261.1 425.6,252.7 425.7,257.9 425.8,255.9 425.9,259.8 426.1,254.7 426.2,254.6 426.3,254.6 426.4,251.8 426.6,254.8 426.7,256.5 426.8,254.6 426.9,255.2 427.1,255.1 427.2,251.2 427.3,254.3 427.4,247.9 427.6,255.1 427.7,248.7 427.8,249.2 427.9,245.7 428.1,250.5 428.2,245.2 428.3,251.2 428.4,246.8 428.6,248.7 428.7,247.4 428.8,247.4 428.9,242.6 429.1,244.1 429.2,248.2 429.3,245.4 429.4,240.0 429.6,244.7 429.7,244.9 429.8,245.4 429.9,239.5 430.1,236.9 430.2,238.9 430.3,236.9 430.4,241.7 430.6,239.3 430.7,241.4 430.8,237.4 430.9,238.8 431.1,240.3 431.2,237.4 431.3,239.1 431.4,230.7 431.6,227.8 431.7,226.8 431.8,232.2 431.9,231.0 432.1,228.3 432.2,224.7 432.3,229.6 432.4,228.8 432.6,225.5 432.7,228.9 432.8,219.5 432.9,224.2 433.1,219.2 433.2,220.1 433.3,216.8 433.4,215.8 433.6,220.2 433.7,219.7 433.8,215.7 433.9,219.3 434.1,215.6 434.2,214.2 434.3,216.0 434.4,217.3 434.6,213.3 434.7,213.1 434.8,212.2 434.9,208.0 435.1,209.8 435.2,207.1 435.3,208.3 435.4,206.3 435.6,207.2 435.7,205.2 435.8,204.0 435.9,207.0 436.1,205.6 436.2,202.9 436.3,201.4 436.4,200.3 436.6,195.6 436.7,197.7 436.8,198.2 436.9,195.9 437.1,195.8 437.2,196.4 437.3,197.5 437.4,191.8 437.6,191.4 437.7,196.5 437.8,187.7 437.9,191.8 438.1,190.0 438.2,189.6 438.3,188.7 438.4,191.0 438.6,186.0 438.7,189.8 438.8,183.3 438.9,183.8 439.1,189.3 439.2,187.6 439.3,182.8 439.4,181.7 439.6,178.4 439.7,180.6 439.8,183.8 439.9,181.2 440.1,179.0 440.2,176.5 440.3,174.3 440.4,179.2 440.6,176.8 440.7,174.2 440.8,174.0 440.9,174.9 441.1,168.8 441.2,168.5 441.3,175.1 441.4,170.5 441.6,167.4 441.7,172.2 441.8,166.8 441.9,163.6 442.1,169.4 442.2,165.0 442.3,166.1 442.4,161.3 442.6,161.4 442.7,162.5 442.8,163.7 442.9,164.8 443.1,159.5 443.2,160.2 443.3,158.2 443.4,158.4 443.6,154.5 443.7,159.0 443.8,159.2 443.9,150.9 444.1,152.2 444.2,155.3 444.3,155.9 444.4,151.0 444.6,151.3 444.7,150.7 444.8,151.3 444.9,148.8 445.1,147.8 445.2,144.9 445.3,150.4 445.4,145.4 445.6,141.1 445.7,141.7 445.8,140.0 445.9,141.4 446.1,143.6 446.2,144.2 446.3,144.4 446.4,143.0 446.6,135.3 446.7,134.8 446.8,136.7 446.9,138.2 447.1,134.5 447.2,134.3 447.3,137.8 447.4,136.0 447.6,133.8 447.7,133.8 447.8,135.7 447.9,136.6 448.1,130.1 448.2,133.0 448.3,132.0 448.4,133.0 448.6,130.1 448.7,132.5 448.8,127.9 448.9,127.4 449.1,131.3 449.2,123.9 449.3,126.5 449.4,126.4 449.6,127.6"/>
</g>
<rect x="85.8" y="7.7" width="361.8" height="317.7" fill="none" stroke="#606060" stroke-width="1.4"/>
<g stroke="#333" stroke-width="1" fill="none">
<line x1="85.8" y1="7.7" x2="90.4" y2="7.7"/>
<line x1="85.8" y1="87.9" x2="90.4" y2="87.9"/>
<line x1="85.8" y1="167.5" x2="90.4" y2="167.5"/>
<line x1="85.8" y1="247.3" x2="90.4" y2="247.3"/>
<line x1="447.6" y1="7.7" x2="443.0" y2="7.7"/>
<line x1="447.6" y1="87.1" x2="443.0" y2="87.1"/>
<line x1="447.6" y1="166.5" x2="443.0" y2="166.5"/>
<line x1="447.6" y1="246.0" x2="443.0" y2="246.0"/>
<line x1="447.6" y1="325.4" x2="443.0" y2="325.4"/>
<line x1="206.4" y1="325.4" x2="206.4" y2="321.2"/>
<line x1="206.4" y1="7.7" x2="206.4" y2="11.9"/>
<line x1="327.0" y1="325.4" x2="327.0" y2="321.2"/>
<line x1="327.0" y1="7.7" x2="327.0" y2="11.9"/>
</g>
<text x="78.6" y="16.2" font-size="22" text-anchor="end">5</text>
<text x="78.6" y="96.4" font-size="22" text-anchor="end">3.75</text>
<text x="78.6" y="176.0" font-size="22" text-anchor="end">2.5</text>
<text x="78.6" y="255.8" font-size="22" text-anchor="end">1.25</text>
<text x="454.3" y="16.2" font-size="22">2</text>
<text x="454.3" y="95.6" font-size="22">1.5</text>
<text x="454.3" y="175.0" font-size="22">1</text>
<text x="454.3" y="254.5" font-size="22">0.5</text>
<text x="454.3" y="333.9" font-size="22">0</text>
<text transform="translate(25.7,166.3) rotate(-90)" font-size="24" text-anchor="middle" textLength="105.5" lengthAdjust="spacingAndGlyphs">Driver (V)</text>
<text transform="translate(515.2,166) rotate(-90)" font-size="24" text-anchor="middle" textLength="150.5" lengthAdjust="spacingAndGlyphs">Response (V)</text>
<text x="266.2" y="358.0" font-size="25.2" text-anchor="middle" textLength="54.0" lengthAdjust="spacingAndGlyphs">Time</text>
<text x="-0.5" y="35.6" font-size="33" class="ser" textLength="39" lengthAdjust="spacingAndGlyphs">(a)</text>
<rect x="314.8" y="9.2" width="130.6" height="90.5" fill="#fff" stroke="#6a6a6a" stroke-width="1.4"/>
<line x1="318.4" y1="25.2" x2="356" y2="25.2" stroke="#10f030" stroke-width="5.8"/>
<line x1="318.4" y1="54.7" x2="356" y2="54.7" stroke="#0000e8" stroke-width="3.9"/>
<line x1="318.4" y1="83.8" x2="356" y2="83.8" stroke="#555" stroke-width="1.4"/>
<text x="359.0" y="33.2" font-size="22" textLength="81.5" lengthAdjust="spacingAndGlyphs">50<tspan font-style="italic">μs</tspan>/div</text>
<text x="359.0" y="62.8" font-size="22" textLength="76.5" lengthAdjust="spacingAndGlyphs">5ms/div</text>
<text x="360.0" y="91.4" font-size="22" textLength="56.5" lengthAdjust="spacingAndGlyphs">1s/div</text>
<g fill="none" stroke="#000" stroke-width="2.1" stroke-linecap="round">
<path d="M116.5,57.1 L146,57.1 C149,57.5 150.2,62 150.2,67 C150.2,73 148,77.5 144.4,77.3 C143,77.2 142,76.6 141.5,75.8"/>
<path d="M141.4,61.5 C141.6,58.8 143,57.1 146,57.1"/>
</g>
<path d="M106.7,57.1 L121.9,49.6 L116.2,57.1 L121.9,64.4 Z" fill="#000"/>
<g fill="none" stroke="#e0744a" stroke-width="2.2" stroke-linecap="round">
<path d="M267.8,50 C268.2,46.5 269.5,43.7 272.5,43.7 L300,43.9"/>
<path d="M272.5,43.7 C276.2,44 277.9,50.5 277.9,58.5 C277.9,67 275.6,74 271.5,74 C269.3,74 268,71.5 267.5,67.5"/>
</g>
<path d="M309.5,44 L293.5,36.3 L300.4,44 L293.5,51.7 Z" fill="#e0744a"/>
<g stroke="#dcdcdc" stroke-width="0.9" stroke-dasharray="1.6 2.4" fill="none">
<line x1="76.6" y1="387.0" x2="76.6" y2="666.2"/>
<line x1="82.9" y1="387.0" x2="82.9" y2="666.2"/>
<line x1="88.3" y1="387.0" x2="88.3" y2="666.2"/>
<line x1="93.1" y1="387.0" x2="93.1" y2="666.2"/>
<line x1="125.5" y1="387.0" x2="125.5" y2="666.2"/>
<line x1="142.0" y1="387.0" x2="142.0" y2="666.2"/>
<line x1="153.7" y1="387.0" x2="153.7" y2="666.2"/>
<line x1="162.7" y1="387.0" x2="162.7" y2="666.2"/>
<line x1="170.1" y1="387.0" x2="170.1" y2="666.2"/>
<line x1="176.4" y1="387.0" x2="176.4" y2="666.2"/>
<line x1="181.8" y1="387.0" x2="181.8" y2="666.2"/>
<line x1="186.6" y1="387.0" x2="186.6" y2="666.2"/>
<line x1="219.0" y1="387.0" x2="219.0" y2="666.2"/>
<line x1="235.5" y1="387.0" x2="235.5" y2="666.2"/>
<line x1="247.2" y1="387.0" x2="247.2" y2="666.2"/>
<line x1="256.3" y1="387.0" x2="256.3" y2="666.2"/>
<line x1="263.7" y1="387.0" x2="263.7" y2="666.2"/>
<line x1="269.9" y1="387.0" x2="269.9" y2="666.2"/>
<line x1="275.4" y1="387.0" x2="275.4" y2="666.2"/>
<line x1="280.1" y1="387.0" x2="280.1" y2="666.2"/>
<line x1="312.6" y1="387.0" x2="312.6" y2="666.2"/>
<line x1="329.1" y1="387.0" x2="329.1" y2="666.2"/>
<line x1="340.7" y1="387.0" x2="340.7" y2="666.2"/>
<line x1="349.8" y1="387.0" x2="349.8" y2="666.2"/>
<line x1="357.2" y1="387.0" x2="357.2" y2="666.2"/>
<line x1="363.5" y1="387.0" x2="363.5" y2="666.2"/>
<line x1="368.9" y1="387.0" x2="368.9" y2="666.2"/>
<line x1="373.7" y1="387.0" x2="373.7" y2="666.2"/>
<line x1="406.1" y1="387.0" x2="406.1" y2="666.2"/>
<line x1="422.6" y1="387.0" x2="422.6" y2="666.2"/>
<line x1="434.3" y1="387.0" x2="434.3" y2="666.2"/>
<line x1="443.3" y1="387.0" x2="443.3" y2="666.2"/>
<line x1="450.7" y1="387.0" x2="450.7" y2="666.2"/>
<line x1="457.0" y1="387.0" x2="457.0" y2="666.2"/>
<line x1="462.4" y1="387.0" x2="462.4" y2="666.2"/>
<line x1="467.2" y1="387.0" x2="467.2" y2="666.2"/>
</g>
<g stroke="#e2e2e2" stroke-width="1" fill="none">
<line x1="97.4" y1="387.0" x2="97.4" y2="666.2"/>
<line x1="190.9" y1="387.0" x2="190.9" y2="666.2"/>
<line x1="284.4" y1="387.0" x2="284.4" y2="666.2"/>
<line x1="378.0" y1="387.0" x2="378.0" y2="666.2"/>
<line x1="69.2" y1="433.5" x2="471.5" y2="433.5"/>
<line x1="69.2" y1="480.1" x2="471.5" y2="480.1"/>
<line x1="69.2" y1="526.6" x2="471.5" y2="526.6"/>
<line x1="69.2" y1="573.1" x2="471.5" y2="573.1"/>
<line x1="69.2" y1="619.7" x2="471.5" y2="619.7"/>
</g>
<polyline fill="none" stroke="#0f70bb" stroke-width="3.9" stroke-linejoin="round" stroke-linecap="round" points="68.9,509.7 97.5,517.7 113.9,521.6 125.4,520.4 134.6,522.0 141.6,522.3 162.9,523.0 176.3,523.3 186.6,523.7 206.9,516.9 241.9,516.9 266.7,520.4 277.7,521.2 284.5,522.0 378.2,523.3 471.3,523.3"/>
<g fill="#0f70bb">
<circle cx="68.9" cy="509.7" r="3.9"/>
<circle cx="97.5" cy="517.7" r="3.9"/>
<circle cx="113.9" cy="521.6" r="3.9"/>
<circle cx="125.4" cy="520.4" r="3.9"/>
<circle cx="134.6" cy="522.0" r="3.9"/>
<circle cx="141.6" cy="522.3" r="3.9"/>
<circle cx="162.9" cy="523.0" r="3.9"/>
<circle cx="176.3" cy="523.3" r="3.9"/>
<circle cx="186.6" cy="523.7" r="3.9"/>
<circle cx="206.9" cy="516.9" r="3.9"/>
<circle cx="241.9" cy="516.9" r="3.9"/>
<circle cx="266.7" cy="520.4" r="3.9"/>
<circle cx="277.7" cy="521.2" r="3.9"/>
<circle cx="284.5" cy="522.0" r="3.9"/>
<circle cx="378.2" cy="523.3" r="3.9"/>
<circle cx="471.3" cy="523.3" r="3.9"/>
</g>
<g stroke="#606060" stroke-width="1" fill="none">
<rect x="69.2" y="387.0" width="402.3" height="279.2"/>
<line x1="69.2" y1="433.5" x2="73.7" y2="433.5"/>
<line x1="471.5" y1="433.5" x2="467.0" y2="433.5"/>
<line x1="69.2" y1="480.1" x2="73.7" y2="480.1"/>
<line x1="471.5" y1="480.1" x2="467.0" y2="480.1"/>
<line x1="69.2" y1="526.6" x2="73.7" y2="526.6"/>
<line x1="471.5" y1="526.6" x2="467.0" y2="526.6"/>
<line x1="69.2" y1="573.1" x2="73.7" y2="573.1"/>
<line x1="471.5" y1="573.1" x2="467.0" y2="573.1"/>
<line x1="69.2" y1="619.7" x2="73.7" y2="619.7"/>
<line x1="471.5" y1="619.7" x2="467.0" y2="619.7"/>
<line x1="97.4" y1="666.2" x2="97.4" y2="661.7"/>
<line x1="97.4" y1="387.0" x2="97.4" y2="391.5"/>
<line x1="190.9" y1="666.2" x2="190.9" y2="661.7"/>
<line x1="190.9" y1="387.0" x2="190.9" y2="391.5"/>
<line x1="284.4" y1="666.2" x2="284.4" y2="661.7"/>
<line x1="284.4" y1="387.0" x2="284.4" y2="391.5"/>
<line x1="378.0" y1="666.2" x2="378.0" y2="661.7"/>
<line x1="378.0" y1="387.0" x2="378.0" y2="391.5"/>
<line x1="76.6" y1="666.2" x2="76.6" y2="663.9"/>
<line x1="76.6" y1="387.0" x2="76.6" y2="389.3"/>
<line x1="82.9" y1="666.2" x2="82.9" y2="663.9"/>
<line x1="82.9" y1="387.0" x2="82.9" y2="389.3"/>
<line x1="88.3" y1="666.2" x2="88.3" y2="663.9"/>
<line x1="88.3" y1="387.0" x2="88.3" y2="389.3"/>
<line x1="93.1" y1="666.2" x2="93.1" y2="663.9"/>
<line x1="93.1" y1="387.0" x2="93.1" y2="389.3"/>
<line x1="125.5" y1="666.2" x2="125.5" y2="663.9"/>
<line x1="125.5" y1="387.0" x2="125.5" y2="389.3"/>
<line x1="142.0" y1="666.2" x2="142.0" y2="663.9"/>
<line x1="142.0" y1="387.0" x2="142.0" y2="389.3"/>
<line x1="153.7" y1="666.2" x2="153.7" y2="663.9"/>
<line x1="153.7" y1="387.0" x2="153.7" y2="389.3"/>
<line x1="162.7" y1="666.2" x2="162.7" y2="663.9"/>
<line x1="162.7" y1="387.0" x2="162.7" y2="389.3"/>
<line x1="170.1" y1="666.2" x2="170.1" y2="663.9"/>
<line x1="170.1" y1="387.0" x2="170.1" y2="389.3"/>
<line x1="176.4" y1="666.2" x2="176.4" y2="663.9"/>
<line x1="176.4" y1="387.0" x2="176.4" y2="389.3"/>
<line x1="181.8" y1="666.2" x2="181.8" y2="663.9"/>
<line x1="181.8" y1="387.0" x2="181.8" y2="389.3"/>
<line x1="186.6" y1="666.2" x2="186.6" y2="663.9"/>
<line x1="186.6" y1="387.0" x2="186.6" y2="389.3"/>
<line x1="219.0" y1="666.2" x2="219.0" y2="663.9"/>
<line x1="219.0" y1="387.0" x2="219.0" y2="389.3"/>
<line x1="235.5" y1="666.2" x2="235.5" y2="663.9"/>
<line x1="235.5" y1="387.0" x2="235.5" y2="389.3"/>
<line x1="247.2" y1="666.2" x2="247.2" y2="663.9"/>
<line x1="247.2" y1="387.0" x2="247.2" y2="389.3"/>
<line x1="256.3" y1="666.2" x2="256.3" y2="663.9"/>
<line x1="256.3" y1="387.0" x2="256.3" y2="389.3"/>
<line x1="263.7" y1="666.2" x2="263.7" y2="663.9"/>
<line x1="263.7" y1="387.0" x2="263.7" y2="389.3"/>
<line x1="269.9" y1="666.2" x2="269.9" y2="663.9"/>
<line x1="269.9" y1="387.0" x2="269.9" y2="389.3"/>
<line x1="275.4" y1="666.2" x2="275.4" y2="663.9"/>
<line x1="275.4" y1="387.0" x2="275.4" y2="389.3"/>
<line x1="280.1" y1="666.2" x2="280.1" y2="663.9"/>
<line x1="280.1" y1="387.0" x2="280.1" y2="389.3"/>
<line x1="312.6" y1="666.2" x2="312.6" y2="663.9"/>
<line x1="312.6" y1="387.0" x2="312.6" y2="389.3"/>
<line x1="329.1" y1="666.2" x2="329.1" y2="663.9"/>
<line x1="329.1" y1="387.0" x2="329.1" y2="389.3"/>
<line x1="340.7" y1="666.2" x2="340.7" y2="663.9"/>
<line x1="340.7" y1="387.0" x2="340.7" y2="389.3"/>
<line x1="349.8" y1="666.2" x2="349.8" y2="663.9"/>
<line x1="349.8" y1="387.0" x2="349.8" y2="389.3"/>
<line x1="357.2" y1="666.2" x2="357.2" y2="663.9"/>
<line x1="357.2" y1="387.0" x2="357.2" y2="389.3"/>
<line x1="363.5" y1="666.2" x2="363.5" y2="663.9"/>
<line x1="363.5" y1="387.0" x2="363.5" y2="389.3"/>
<line x1="368.9" y1="666.2" x2="368.9" y2="663.9"/>
<line x1="368.9" y1="387.0" x2="368.9" y2="389.3"/>
<line x1="373.7" y1="666.2" x2="373.7" y2="663.9"/>
<line x1="373.7" y1="387.0" x2="373.7" y2="389.3"/>
<line x1="406.1" y1="666.2" x2="406.1" y2="663.9"/>
<line x1="406.1" y1="387.0" x2="406.1" y2="389.3"/>
<line x1="422.6" y1="666.2" x2="422.6" y2="663.9"/>
<line x1="422.6" y1="387.0" x2="422.6" y2="389.3"/>
<line x1="434.3" y1="666.2" x2="434.3" y2="663.9"/>
<line x1="434.3" y1="387.0" x2="434.3" y2="389.3"/>
<line x1="443.3" y1="666.2" x2="443.3" y2="663.9"/>
<line x1="443.3" y1="387.0" x2="443.3" y2="389.3"/>
<line x1="450.7" y1="666.2" x2="450.7" y2="663.9"/>
<line x1="450.7" y1="387.0" x2="450.7" y2="389.3"/>
<line x1="457.0" y1="666.2" x2="457.0" y2="663.9"/>
<line x1="457.0" y1="387.0" x2="457.0" y2="389.3"/>
<line x1="462.4" y1="666.2" x2="462.4" y2="663.9"/>
<line x1="462.4" y1="387.0" x2="462.4" y2="389.3"/>
<line x1="467.2" y1="666.2" x2="467.2" y2="663.9"/>
<line x1="467.2" y1="387.0" x2="467.2" y2="389.3"/>
</g>
<text x="61.0" y="396.1" font-size="23" text-anchor="end">6</text>
<text x="61.0" y="442.7" font-size="23" text-anchor="end">4</text>
<text x="61.0" y="489.2" font-size="23" text-anchor="end">2</text>
<text x="61.0" y="535.7" font-size="23" text-anchor="end">0</text>
<text x="61.0" y="582.3" font-size="23" text-anchor="end">-2</text>
<text x="61.0" y="628.8" font-size="23" text-anchor="end">-4</text>
<text x="61.0" y="675.3" font-size="23" text-anchor="end">-6</text>
<text x="78.6" y="705.7" font-size="23.2" textLength="27.8" lengthAdjust="spacingAndGlyphs">10</text>
<text x="105.9" y="694.2" font-size="18.7">0</text>
<text x="172.1" y="705.7" font-size="23.2" textLength="27.8" lengthAdjust="spacingAndGlyphs">10</text>
<text x="199.4" y="694.2" font-size="18.7">1</text>
<text x="265.6" y="705.7" font-size="23.2" textLength="27.8" lengthAdjust="spacingAndGlyphs">10</text>
<text x="292.9" y="694.2" font-size="18.7">2</text>
<text x="359.2" y="705.7" font-size="23.2" textLength="27.8" lengthAdjust="spacingAndGlyphs">10</text>
<text x="386.5" y="694.2" font-size="18.7">3</text>
<text x="452.7" y="705.7" font-size="23.2" textLength="27.8" lengthAdjust="spacingAndGlyphs">10</text>
<text x="480.0" y="694.2" font-size="18.7">4</text>
<text transform="translate(28.7,526.7) rotate(-90)" font-size="26" text-anchor="middle" textLength="214" lengthAdjust="spacingAndGlyphs">EO response (dB)</text>
<text x="268.9" y="739.4" font-size="26.5" text-anchor="middle" textLength="183.5" lengthAdjust="spacingAndGlyphs">Frequency (Hz)</text>
<text x="-0.7" y="405.8" font-size="35.5" class="ser" textLength="42" lengthAdjust="spacingAndGlyphs">(b)</text>
</svg></body></html>
